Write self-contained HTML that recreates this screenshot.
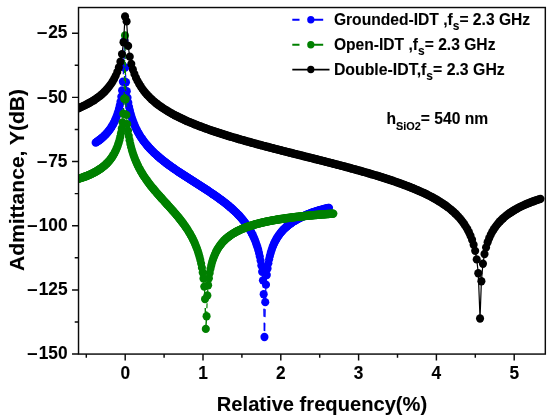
<!DOCTYPE html>
<html><head><meta charset="utf-8"><title>Admittance</title>
<style>
html,body{margin:0;padding:0;background:#fff;}
svg{display:block;}
text{font-family:"Liberation Sans",Arial,sans-serif;font-weight:bold;fill:#000;stroke:#000;stroke-width:0.1px;}
</style></head><body>
<svg width="550" height="419" viewBox="0 0 550 419">
<rect x="0" y="0" width="550" height="419" fill="#fff"/>
<defs><clipPath id="c"><rect x="78.52" y="7.53" width="466.80" height="346.54"/></clipPath></defs>

<g clip-path="url(#c)">
<path d="M95.64 142.63 L96.41 142.12 L97.19 141.59 L97.97 141.05 L98.75 140.49 L99.53 139.91 L100.30 139.31 L101.08 138.68 L101.86 138.03 L102.64 137.36 L103.42 136.65 L104.19 135.92 L104.97 135.15 L105.75 134.35 L106.53 133.51 L107.31 132.63 L108.08 131.71 L108.86 130.73 L109.64 129.70 L110.42 128.61 L111.20 127.44 L111.97 126.21 L112.75 124.88 L113.53 123.46 L114.31 121.92 L115.09 120.25 L115.86 118.43 L116.64 116.43 L117.42 114.20 L118.20 111.69 L118.98 108.84 L119.75 105.53 L120.53 101.60 L121.31 96.77 L122.09 90.53 L122.87 81.77 L123.64 67.24 L124.42 40.87 L125.20 67.49 L125.98 82.26 L126.76 91.28 L127.53 97.76 L128.31 102.84 L129.09 107.02 L129.87 110.57 L130.65 113.67 L131.42 116.43 L132.20 118.90 L132.98 121.16 L133.76 123.23 L134.54 125.15 L135.31 126.93 L136.09 128.60 L136.87 130.18 L137.65 131.66 L138.43 133.08 L139.20 134.42 L139.98 135.70 L140.76 136.93 L141.54 138.11 L142.32 139.24 L143.09 140.33 L143.87 141.38 L144.65 142.40 L145.43 143.39 L146.21 144.34 L146.98 145.27 L147.76 146.18 L148.54 147.06 L149.32 147.91 L150.10 148.75 L150.87 149.57 L151.65 150.37 L152.43 151.15 L153.21 151.92 L153.99 152.67 L154.76 153.40 L155.54 154.13 L156.32 154.84 L157.10 155.54 L157.88 156.22 L158.65 156.90 L159.43 157.56 L160.21 158.22 L160.99 158.86 L161.77 159.50 L162.54 160.13 L163.32 160.75 L164.10 161.37 L164.88 161.97 L165.66 162.57 L166.43 163.16 L167.21 163.75 L167.99 164.33 L168.77 164.91 L169.55 165.48 L170.32 166.04 L171.10 166.60 L171.88 167.15 L172.66 167.71 L173.44 168.25 L174.21 168.79 L174.99 169.33 L175.77 169.87 L176.55 170.40 L177.33 170.93 L178.10 171.45 L178.88 171.97 L179.66 172.49 L180.44 173.01 L181.22 173.53 L181.99 174.04 L182.77 174.55 L183.55 175.06 L184.33 175.56 L185.11 176.07 L185.88 176.57 L186.66 177.07 L187.44 177.57 L188.22 178.07 L189.00 178.57 L189.77 179.07 L190.55 179.57 L191.33 180.06 L192.11 180.56 L192.89 181.05 L193.66 181.55 L194.44 182.04 L195.22 182.54 L196.00 183.03 L196.78 183.53 L197.55 184.03 L198.33 184.52 L199.11 185.02 L199.89 185.52 L200.67 186.01 L201.44 186.51 L202.22 187.01 L203.00 187.52 L203.78 188.02 L204.56 188.52 L205.33 189.03 L206.11 189.54 L206.89 190.05 L207.67 190.56 L208.45 191.07 L209.22 191.59 L210.00 192.11 L210.78 192.63 L211.56 193.16 L212.34 193.68 L213.11 194.21 L213.89 194.75 L214.67 195.29 L215.45 195.83 L216.23 196.37 L217.00 196.92 L217.78 197.48 L218.56 198.04 L219.34 198.60 L220.12 199.17 L220.89 199.74 L221.67 200.32 L222.45 200.91 L223.23 201.50 L224.01 202.10 L224.78 202.70 L225.56 203.32 L226.34 203.93 L227.12 204.56 L227.90 205.20 L228.67 205.84 L229.45 206.50 L230.23 207.16 L231.01 207.84 L231.79 208.52 L232.56 209.22 L233.34 209.92 L234.12 210.64 L234.90 211.38 L235.68 212.13 L236.45 212.89 L237.23 213.67 L238.01 214.47 L238.79 215.28 L239.57 216.11 L240.34 216.97 L241.12 217.85 L241.90 218.74 L242.68 219.67 L243.46 220.62 L244.23 221.60 L245.01 222.62 L245.79 223.66 L246.57 224.75 L247.35 225.87 L248.12 227.04 L248.90 228.26 L249.68 229.53 L250.46 230.87 L251.24 232.27 L252.01 233.74 L252.79 235.30 L253.57 236.96 L254.35 238.72 L255.13 240.61 L255.90 242.66 L256.68 244.88 L257.46 247.32 L258.24 250.02 L259.02 253.06 L259.79 256.54 L260.57 260.61 L261.35 265.53 L262.13 271.77 L262.91 280.35 L263.68 294.24 M265.24 302.14 L266.02 284.64 L266.80 275.04 L267.57 268.42 L268.35 263.37 L269.13 259.29 L269.91 255.88 L270.69 252.96 L271.46 250.39 L272.24 248.12 L273.02 246.08 L273.80 244.22 L274.58 242.53 L275.35 240.97 L276.13 239.53 L276.91 238.19 L277.69 236.94 L278.47 235.76 L279.24 234.66 L280.02 233.62 L280.80 232.63 L281.58 231.70 L282.36 230.81 L283.13 229.96 L283.91 229.15 L284.69 228.38 L285.47 227.64 L286.25 226.93 L287.02 226.25 L287.80 225.60 L288.58 224.97 L289.36 224.36 L290.14 223.78 L290.91 223.22 L291.69 222.67 L292.47 222.14 L293.25 221.63 L294.03 221.14 L294.80 220.66 L295.58 220.19 L296.36 219.74 L297.14 219.30 L297.92 218.87 L298.69 218.46 L299.47 218.06 L300.25 217.66 L301.03 217.28 L301.81 216.91 L302.58 216.54 L303.36 216.19 L304.14 215.84 L304.92 215.50 L305.70 215.17 L306.47 214.85 L307.25 214.54 L308.03 214.23 L308.81 213.93 L309.59 213.63 L310.36 213.34 L311.14 213.06 L311.92 212.78 L312.70 212.51 L313.48 212.25 L314.25 211.98 L315.03 211.73 L315.81 211.48 L316.59 211.23 L317.37 210.99 L318.14 210.76 L318.92 210.52 L319.70 210.30 L320.48 210.07 L321.26 209.85 L322.03 209.64 L322.81 209.42 L323.59 209.21 L324.37 209.01 L325.15 208.81 L325.92 208.61 L326.70 208.41 L327.48 208.22 L328.26 208.03 L329.04 207.85" fill="none" stroke="#0000ff" stroke-width="1.2" stroke-dasharray="7 4"/>
<path d="M263.68 294.24 L264.46 337.04" fill="none" stroke="#0000ff" stroke-width="1.4" stroke-dasharray="8 6" stroke-dashoffset="-14.4"/>
<path d="M265.24 302.14 L264.46 337.04" fill="none" stroke="#0000ff" stroke-width="1.4" stroke-dasharray="8 6" stroke-dashoffset="-7.0"/>
<g fill="#0000ff">
<ellipse cx="95.64" cy="142.63" rx="4.05" ry="4.2"/>
<ellipse cx="96.41" cy="142.12" rx="4.05" ry="4.2"/>
<ellipse cx="97.19" cy="141.59" rx="4.05" ry="4.2"/>
<ellipse cx="97.97" cy="141.05" rx="4.05" ry="4.2"/>
<ellipse cx="98.75" cy="140.49" rx="4.05" ry="4.2"/>
<ellipse cx="99.53" cy="139.91" rx="4.05" ry="4.2"/>
<ellipse cx="100.30" cy="139.31" rx="4.05" ry="4.2"/>
<ellipse cx="101.08" cy="138.68" rx="4.05" ry="4.2"/>
<ellipse cx="101.86" cy="138.03" rx="4.05" ry="4.2"/>
<ellipse cx="102.64" cy="137.36" rx="4.05" ry="4.2"/>
<ellipse cx="103.42" cy="136.65" rx="4.05" ry="4.2"/>
<ellipse cx="104.19" cy="135.92" rx="4.05" ry="4.2"/>
<ellipse cx="104.97" cy="135.15" rx="4.05" ry="4.2"/>
<ellipse cx="105.75" cy="134.35" rx="4.05" ry="4.2"/>
<ellipse cx="106.53" cy="133.51" rx="4.05" ry="4.2"/>
<ellipse cx="107.31" cy="132.63" rx="4.05" ry="4.2"/>
<ellipse cx="108.08" cy="131.71" rx="4.05" ry="4.2"/>
<ellipse cx="108.86" cy="130.73" rx="4.05" ry="4.2"/>
<ellipse cx="109.64" cy="129.70" rx="4.05" ry="4.2"/>
<ellipse cx="110.42" cy="128.61" rx="4.05" ry="4.2"/>
<ellipse cx="111.20" cy="127.44" rx="4.05" ry="4.2"/>
<ellipse cx="111.97" cy="126.21" rx="4.05" ry="4.2"/>
<ellipse cx="112.75" cy="124.88" rx="4.05" ry="4.2"/>
<ellipse cx="113.53" cy="123.46" rx="4.05" ry="4.2"/>
<ellipse cx="114.31" cy="121.92" rx="4.05" ry="4.2"/>
<ellipse cx="115.09" cy="120.25" rx="4.05" ry="4.2"/>
<ellipse cx="115.86" cy="118.43" rx="4.05" ry="4.2"/>
<ellipse cx="116.64" cy="116.43" rx="4.05" ry="4.2"/>
<ellipse cx="117.42" cy="114.20" rx="4.05" ry="4.2"/>
<ellipse cx="118.20" cy="111.69" rx="4.05" ry="4.2"/>
<ellipse cx="118.98" cy="108.84" rx="4.05" ry="4.2"/>
<ellipse cx="119.75" cy="105.53" rx="4.05" ry="4.2"/>
<ellipse cx="120.53" cy="101.60" rx="4.05" ry="4.2"/>
<ellipse cx="121.31" cy="96.77" rx="4.05" ry="4.2"/>
<ellipse cx="122.09" cy="90.53" rx="4.05" ry="4.2"/>
<ellipse cx="122.87" cy="81.77" rx="4.05" ry="4.2"/>
<ellipse cx="123.64" cy="67.24" rx="4.05" ry="4.2"/>
<ellipse cx="124.42" cy="40.87" rx="4.05" ry="4.2"/>
<ellipse cx="125.20" cy="67.49" rx="4.05" ry="4.2"/>
<ellipse cx="125.98" cy="82.26" rx="4.05" ry="4.2"/>
<ellipse cx="126.76" cy="91.28" rx="4.05" ry="4.2"/>
<ellipse cx="127.53" cy="97.76" rx="4.05" ry="4.2"/>
<ellipse cx="128.31" cy="102.84" rx="4.05" ry="4.2"/>
<ellipse cx="129.09" cy="107.02" rx="4.05" ry="4.2"/>
<ellipse cx="129.87" cy="110.57" rx="4.05" ry="4.2"/>
<ellipse cx="130.65" cy="113.67" rx="4.05" ry="4.2"/>
<ellipse cx="131.42" cy="116.43" rx="4.05" ry="4.2"/>
<ellipse cx="132.20" cy="118.90" rx="4.05" ry="4.2"/>
<ellipse cx="132.98" cy="121.16" rx="4.05" ry="4.2"/>
<ellipse cx="133.76" cy="123.23" rx="4.05" ry="4.2"/>
<ellipse cx="134.54" cy="125.15" rx="4.05" ry="4.2"/>
<ellipse cx="135.31" cy="126.93" rx="4.05" ry="4.2"/>
<ellipse cx="136.09" cy="128.60" rx="4.05" ry="4.2"/>
<ellipse cx="136.87" cy="130.18" rx="4.05" ry="4.2"/>
<ellipse cx="137.65" cy="131.66" rx="4.05" ry="4.2"/>
<ellipse cx="138.43" cy="133.08" rx="4.05" ry="4.2"/>
<ellipse cx="139.20" cy="134.42" rx="4.05" ry="4.2"/>
<ellipse cx="139.98" cy="135.70" rx="4.05" ry="4.2"/>
<ellipse cx="140.76" cy="136.93" rx="4.05" ry="4.2"/>
<ellipse cx="141.54" cy="138.11" rx="4.05" ry="4.2"/>
<ellipse cx="142.32" cy="139.24" rx="4.05" ry="4.2"/>
<ellipse cx="143.09" cy="140.33" rx="4.05" ry="4.2"/>
<ellipse cx="143.87" cy="141.38" rx="4.05" ry="4.2"/>
<ellipse cx="144.65" cy="142.40" rx="4.05" ry="4.2"/>
<ellipse cx="145.43" cy="143.39" rx="4.05" ry="4.2"/>
<ellipse cx="146.21" cy="144.34" rx="4.05" ry="4.2"/>
<ellipse cx="146.98" cy="145.27" rx="4.05" ry="4.2"/>
<ellipse cx="147.76" cy="146.18" rx="4.05" ry="4.2"/>
<ellipse cx="148.54" cy="147.06" rx="4.05" ry="4.2"/>
<ellipse cx="149.32" cy="147.91" rx="4.05" ry="4.2"/>
<ellipse cx="150.10" cy="148.75" rx="4.05" ry="4.2"/>
<ellipse cx="150.87" cy="149.57" rx="4.05" ry="4.2"/>
<ellipse cx="151.65" cy="150.37" rx="4.05" ry="4.2"/>
<ellipse cx="152.43" cy="151.15" rx="4.05" ry="4.2"/>
<ellipse cx="153.21" cy="151.92" rx="4.05" ry="4.2"/>
<ellipse cx="153.99" cy="152.67" rx="4.05" ry="4.2"/>
<ellipse cx="154.76" cy="153.40" rx="4.05" ry="4.2"/>
<ellipse cx="155.54" cy="154.13" rx="4.05" ry="4.2"/>
<ellipse cx="156.32" cy="154.84" rx="4.05" ry="4.2"/>
<ellipse cx="157.10" cy="155.54" rx="4.05" ry="4.2"/>
<ellipse cx="157.88" cy="156.22" rx="4.05" ry="4.2"/>
<ellipse cx="158.65" cy="156.90" rx="4.05" ry="4.2"/>
<ellipse cx="159.43" cy="157.56" rx="4.05" ry="4.2"/>
<ellipse cx="160.21" cy="158.22" rx="4.05" ry="4.2"/>
<ellipse cx="160.99" cy="158.86" rx="4.05" ry="4.2"/>
<ellipse cx="161.77" cy="159.50" rx="4.05" ry="4.2"/>
<ellipse cx="162.54" cy="160.13" rx="4.05" ry="4.2"/>
<ellipse cx="163.32" cy="160.75" rx="4.05" ry="4.2"/>
<ellipse cx="164.10" cy="161.37" rx="4.05" ry="4.2"/>
<ellipse cx="164.88" cy="161.97" rx="4.05" ry="4.2"/>
<ellipse cx="165.66" cy="162.57" rx="4.05" ry="4.2"/>
<ellipse cx="166.43" cy="163.16" rx="4.05" ry="4.2"/>
<ellipse cx="167.21" cy="163.75" rx="4.05" ry="4.2"/>
<ellipse cx="167.99" cy="164.33" rx="4.05" ry="4.2"/>
<ellipse cx="168.77" cy="164.91" rx="4.05" ry="4.2"/>
<ellipse cx="169.55" cy="165.48" rx="4.05" ry="4.2"/>
<ellipse cx="170.32" cy="166.04" rx="4.05" ry="4.2"/>
<ellipse cx="171.10" cy="166.60" rx="4.05" ry="4.2"/>
<ellipse cx="171.88" cy="167.15" rx="4.05" ry="4.2"/>
<ellipse cx="172.66" cy="167.71" rx="4.05" ry="4.2"/>
<ellipse cx="173.44" cy="168.25" rx="4.05" ry="4.2"/>
<ellipse cx="174.21" cy="168.79" rx="4.05" ry="4.2"/>
<ellipse cx="174.99" cy="169.33" rx="4.05" ry="4.2"/>
<ellipse cx="175.77" cy="169.87" rx="4.05" ry="4.2"/>
<ellipse cx="176.55" cy="170.40" rx="4.05" ry="4.2"/>
<ellipse cx="177.33" cy="170.93" rx="4.05" ry="4.2"/>
<ellipse cx="178.10" cy="171.45" rx="4.05" ry="4.2"/>
<ellipse cx="178.88" cy="171.97" rx="4.05" ry="4.2"/>
<ellipse cx="179.66" cy="172.49" rx="4.05" ry="4.2"/>
<ellipse cx="180.44" cy="173.01" rx="4.05" ry="4.2"/>
<ellipse cx="181.22" cy="173.53" rx="4.05" ry="4.2"/>
<ellipse cx="181.99" cy="174.04" rx="4.05" ry="4.2"/>
<ellipse cx="182.77" cy="174.55" rx="4.05" ry="4.2"/>
<ellipse cx="183.55" cy="175.06" rx="4.05" ry="4.2"/>
<ellipse cx="184.33" cy="175.56" rx="4.05" ry="4.2"/>
<ellipse cx="185.11" cy="176.07" rx="4.05" ry="4.2"/>
<ellipse cx="185.88" cy="176.57" rx="4.05" ry="4.2"/>
<ellipse cx="186.66" cy="177.07" rx="4.05" ry="4.2"/>
<ellipse cx="187.44" cy="177.57" rx="4.05" ry="4.2"/>
<ellipse cx="188.22" cy="178.07" rx="4.05" ry="4.2"/>
<ellipse cx="189.00" cy="178.57" rx="4.05" ry="4.2"/>
<ellipse cx="189.77" cy="179.07" rx="4.05" ry="4.2"/>
<ellipse cx="190.55" cy="179.57" rx="4.05" ry="4.2"/>
<ellipse cx="191.33" cy="180.06" rx="4.05" ry="4.2"/>
<ellipse cx="192.11" cy="180.56" rx="4.05" ry="4.2"/>
<ellipse cx="192.89" cy="181.05" rx="4.05" ry="4.2"/>
<ellipse cx="193.66" cy="181.55" rx="4.05" ry="4.2"/>
<ellipse cx="194.44" cy="182.04" rx="4.05" ry="4.2"/>
<ellipse cx="195.22" cy="182.54" rx="4.05" ry="4.2"/>
<ellipse cx="196.00" cy="183.03" rx="4.05" ry="4.2"/>
<ellipse cx="196.78" cy="183.53" rx="4.05" ry="4.2"/>
<ellipse cx="197.55" cy="184.03" rx="4.05" ry="4.2"/>
<ellipse cx="198.33" cy="184.52" rx="4.05" ry="4.2"/>
<ellipse cx="199.11" cy="185.02" rx="4.05" ry="4.2"/>
<ellipse cx="199.89" cy="185.52" rx="4.05" ry="4.2"/>
<ellipse cx="200.67" cy="186.01" rx="4.05" ry="4.2"/>
<ellipse cx="201.44" cy="186.51" rx="4.05" ry="4.2"/>
<ellipse cx="202.22" cy="187.01" rx="4.05" ry="4.2"/>
<ellipse cx="203.00" cy="187.52" rx="4.05" ry="4.2"/>
<ellipse cx="203.78" cy="188.02" rx="4.05" ry="4.2"/>
<ellipse cx="204.56" cy="188.52" rx="4.05" ry="4.2"/>
<ellipse cx="205.33" cy="189.03" rx="4.05" ry="4.2"/>
<ellipse cx="206.11" cy="189.54" rx="4.05" ry="4.2"/>
<ellipse cx="206.89" cy="190.05" rx="4.05" ry="4.2"/>
<ellipse cx="207.67" cy="190.56" rx="4.05" ry="4.2"/>
<ellipse cx="208.45" cy="191.07" rx="4.05" ry="4.2"/>
<ellipse cx="209.22" cy="191.59" rx="4.05" ry="4.2"/>
<ellipse cx="210.00" cy="192.11" rx="4.05" ry="4.2"/>
<ellipse cx="210.78" cy="192.63" rx="4.05" ry="4.2"/>
<ellipse cx="211.56" cy="193.16" rx="4.05" ry="4.2"/>
<ellipse cx="212.34" cy="193.68" rx="4.05" ry="4.2"/>
<ellipse cx="213.11" cy="194.21" rx="4.05" ry="4.2"/>
<ellipse cx="213.89" cy="194.75" rx="4.05" ry="4.2"/>
<ellipse cx="214.67" cy="195.29" rx="4.05" ry="4.2"/>
<ellipse cx="215.45" cy="195.83" rx="4.05" ry="4.2"/>
<ellipse cx="216.23" cy="196.37" rx="4.05" ry="4.2"/>
<ellipse cx="217.00" cy="196.92" rx="4.05" ry="4.2"/>
<ellipse cx="217.78" cy="197.48" rx="4.05" ry="4.2"/>
<ellipse cx="218.56" cy="198.04" rx="4.05" ry="4.2"/>
<ellipse cx="219.34" cy="198.60" rx="4.05" ry="4.2"/>
<ellipse cx="220.12" cy="199.17" rx="4.05" ry="4.2"/>
<ellipse cx="220.89" cy="199.74" rx="4.05" ry="4.2"/>
<ellipse cx="221.67" cy="200.32" rx="4.05" ry="4.2"/>
<ellipse cx="222.45" cy="200.91" rx="4.05" ry="4.2"/>
<ellipse cx="223.23" cy="201.50" rx="4.05" ry="4.2"/>
<ellipse cx="224.01" cy="202.10" rx="4.05" ry="4.2"/>
<ellipse cx="224.78" cy="202.70" rx="4.05" ry="4.2"/>
<ellipse cx="225.56" cy="203.32" rx="4.05" ry="4.2"/>
<ellipse cx="226.34" cy="203.93" rx="4.05" ry="4.2"/>
<ellipse cx="227.12" cy="204.56" rx="4.05" ry="4.2"/>
<ellipse cx="227.90" cy="205.20" rx="4.05" ry="4.2"/>
<ellipse cx="228.67" cy="205.84" rx="4.05" ry="4.2"/>
<ellipse cx="229.45" cy="206.50" rx="4.05" ry="4.2"/>
<ellipse cx="230.23" cy="207.16" rx="4.05" ry="4.2"/>
<ellipse cx="231.01" cy="207.84" rx="4.05" ry="4.2"/>
<ellipse cx="231.79" cy="208.52" rx="4.05" ry="4.2"/>
<ellipse cx="232.56" cy="209.22" rx="4.05" ry="4.2"/>
<ellipse cx="233.34" cy="209.92" rx="4.05" ry="4.2"/>
<ellipse cx="234.12" cy="210.64" rx="4.05" ry="4.2"/>
<ellipse cx="234.90" cy="211.38" rx="4.05" ry="4.2"/>
<ellipse cx="235.68" cy="212.13" rx="4.05" ry="4.2"/>
<ellipse cx="236.45" cy="212.89" rx="4.05" ry="4.2"/>
<ellipse cx="237.23" cy="213.67" rx="4.05" ry="4.2"/>
<ellipse cx="238.01" cy="214.47" rx="4.05" ry="4.2"/>
<ellipse cx="238.79" cy="215.28" rx="4.05" ry="4.2"/>
<ellipse cx="239.57" cy="216.11" rx="4.05" ry="4.2"/>
<ellipse cx="240.34" cy="216.97" rx="4.05" ry="4.2"/>
<ellipse cx="241.12" cy="217.85" rx="4.05" ry="4.2"/>
<ellipse cx="241.90" cy="218.74" rx="4.05" ry="4.2"/>
<ellipse cx="242.68" cy="219.67" rx="4.05" ry="4.2"/>
<ellipse cx="243.46" cy="220.62" rx="4.05" ry="4.2"/>
<ellipse cx="244.23" cy="221.60" rx="4.05" ry="4.2"/>
<ellipse cx="245.01" cy="222.62" rx="4.05" ry="4.2"/>
<ellipse cx="245.79" cy="223.66" rx="4.05" ry="4.2"/>
<ellipse cx="246.57" cy="224.75" rx="4.05" ry="4.2"/>
<ellipse cx="247.35" cy="225.87" rx="4.05" ry="4.2"/>
<ellipse cx="248.12" cy="227.04" rx="4.05" ry="4.2"/>
<ellipse cx="248.90" cy="228.26" rx="4.05" ry="4.2"/>
<ellipse cx="249.68" cy="229.53" rx="4.05" ry="4.2"/>
<ellipse cx="250.46" cy="230.87" rx="4.05" ry="4.2"/>
<ellipse cx="251.24" cy="232.27" rx="4.05" ry="4.2"/>
<ellipse cx="252.01" cy="233.74" rx="4.05" ry="4.2"/>
<ellipse cx="252.79" cy="235.30" rx="4.05" ry="4.2"/>
<ellipse cx="253.57" cy="236.96" rx="4.05" ry="4.2"/>
<ellipse cx="254.35" cy="238.72" rx="4.05" ry="4.2"/>
<ellipse cx="255.13" cy="240.61" rx="4.05" ry="4.2"/>
<ellipse cx="255.90" cy="242.66" rx="4.05" ry="4.2"/>
<ellipse cx="256.68" cy="244.88" rx="4.05" ry="4.2"/>
<ellipse cx="257.46" cy="247.32" rx="4.05" ry="4.2"/>
<ellipse cx="258.24" cy="250.02" rx="4.05" ry="4.2"/>
<ellipse cx="259.02" cy="253.06" rx="4.05" ry="4.2"/>
<ellipse cx="259.79" cy="256.54" rx="4.05" ry="4.2"/>
<ellipse cx="260.57" cy="260.61" rx="4.05" ry="4.2"/>
<ellipse cx="261.35" cy="265.53" rx="4.05" ry="4.2"/>
<ellipse cx="262.13" cy="271.77" rx="4.05" ry="4.2"/>
<ellipse cx="262.91" cy="280.35" rx="4.05" ry="4.2"/>
<ellipse cx="263.68" cy="294.24" rx="4.05" ry="4.2"/>
<ellipse cx="264.46" cy="337.04" rx="4.05" ry="4.2"/>
<ellipse cx="265.24" cy="302.14" rx="4.05" ry="4.2"/>
<ellipse cx="266.02" cy="284.64" rx="4.05" ry="4.2"/>
<ellipse cx="266.80" cy="275.04" rx="4.05" ry="4.2"/>
<ellipse cx="267.57" cy="268.42" rx="4.05" ry="4.2"/>
<ellipse cx="268.35" cy="263.37" rx="4.05" ry="4.2"/>
<ellipse cx="269.13" cy="259.29" rx="4.05" ry="4.2"/>
<ellipse cx="269.91" cy="255.88" rx="4.05" ry="4.2"/>
<ellipse cx="270.69" cy="252.96" rx="4.05" ry="4.2"/>
<ellipse cx="271.46" cy="250.39" rx="4.05" ry="4.2"/>
<ellipse cx="272.24" cy="248.12" rx="4.05" ry="4.2"/>
<ellipse cx="273.02" cy="246.08" rx="4.05" ry="4.2"/>
<ellipse cx="273.80" cy="244.22" rx="4.05" ry="4.2"/>
<ellipse cx="274.58" cy="242.53" rx="4.05" ry="4.2"/>
<ellipse cx="275.35" cy="240.97" rx="4.05" ry="4.2"/>
<ellipse cx="276.13" cy="239.53" rx="4.05" ry="4.2"/>
<ellipse cx="276.91" cy="238.19" rx="4.05" ry="4.2"/>
<ellipse cx="277.69" cy="236.94" rx="4.05" ry="4.2"/>
<ellipse cx="278.47" cy="235.76" rx="4.05" ry="4.2"/>
<ellipse cx="279.24" cy="234.66" rx="4.05" ry="4.2"/>
<ellipse cx="280.02" cy="233.62" rx="4.05" ry="4.2"/>
<ellipse cx="280.80" cy="232.63" rx="4.05" ry="4.2"/>
<ellipse cx="281.58" cy="231.70" rx="4.05" ry="4.2"/>
<ellipse cx="282.36" cy="230.81" rx="4.05" ry="4.2"/>
<ellipse cx="283.13" cy="229.96" rx="4.05" ry="4.2"/>
<ellipse cx="283.91" cy="229.15" rx="4.05" ry="4.2"/>
<ellipse cx="284.69" cy="228.38" rx="4.05" ry="4.2"/>
<ellipse cx="285.47" cy="227.64" rx="4.05" ry="4.2"/>
<ellipse cx="286.25" cy="226.93" rx="4.05" ry="4.2"/>
<ellipse cx="287.02" cy="226.25" rx="4.05" ry="4.2"/>
<ellipse cx="287.80" cy="225.60" rx="4.05" ry="4.2"/>
<ellipse cx="288.58" cy="224.97" rx="4.05" ry="4.2"/>
<ellipse cx="289.36" cy="224.36" rx="4.05" ry="4.2"/>
<ellipse cx="290.14" cy="223.78" rx="4.05" ry="4.2"/>
<ellipse cx="290.91" cy="223.22" rx="4.05" ry="4.2"/>
<ellipse cx="291.69" cy="222.67" rx="4.05" ry="4.2"/>
<ellipse cx="292.47" cy="222.14" rx="4.05" ry="4.2"/>
<ellipse cx="293.25" cy="221.63" rx="4.05" ry="4.2"/>
<ellipse cx="294.03" cy="221.14" rx="4.05" ry="4.2"/>
<ellipse cx="294.80" cy="220.66" rx="4.05" ry="4.2"/>
<ellipse cx="295.58" cy="220.19" rx="4.05" ry="4.2"/>
<ellipse cx="296.36" cy="219.74" rx="4.05" ry="4.2"/>
<ellipse cx="297.14" cy="219.30" rx="4.05" ry="4.2"/>
<ellipse cx="297.92" cy="218.87" rx="4.05" ry="4.2"/>
<ellipse cx="298.69" cy="218.46" rx="4.05" ry="4.2"/>
<ellipse cx="299.47" cy="218.06" rx="4.05" ry="4.2"/>
<ellipse cx="300.25" cy="217.66" rx="4.05" ry="4.2"/>
<ellipse cx="301.03" cy="217.28" rx="4.05" ry="4.2"/>
<ellipse cx="301.81" cy="216.91" rx="4.05" ry="4.2"/>
<ellipse cx="302.58" cy="216.54" rx="4.05" ry="4.2"/>
<ellipse cx="303.36" cy="216.19" rx="4.05" ry="4.2"/>
<ellipse cx="304.14" cy="215.84" rx="4.05" ry="4.2"/>
<ellipse cx="304.92" cy="215.50" rx="4.05" ry="4.2"/>
<ellipse cx="305.70" cy="215.17" rx="4.05" ry="4.2"/>
<ellipse cx="306.47" cy="214.85" rx="4.05" ry="4.2"/>
<ellipse cx="307.25" cy="214.54" rx="4.05" ry="4.2"/>
<ellipse cx="308.03" cy="214.23" rx="4.05" ry="4.2"/>
<ellipse cx="308.81" cy="213.93" rx="4.05" ry="4.2"/>
<ellipse cx="309.59" cy="213.63" rx="4.05" ry="4.2"/>
<ellipse cx="310.36" cy="213.34" rx="4.05" ry="4.2"/>
<ellipse cx="311.14" cy="213.06" rx="4.05" ry="4.2"/>
<ellipse cx="311.92" cy="212.78" rx="4.05" ry="4.2"/>
<ellipse cx="312.70" cy="212.51" rx="4.05" ry="4.2"/>
<ellipse cx="313.48" cy="212.25" rx="4.05" ry="4.2"/>
<ellipse cx="314.25" cy="211.98" rx="4.05" ry="4.2"/>
<ellipse cx="315.03" cy="211.73" rx="4.05" ry="4.2"/>
<ellipse cx="315.81" cy="211.48" rx="4.05" ry="4.2"/>
<ellipse cx="316.59" cy="211.23" rx="4.05" ry="4.2"/>
<ellipse cx="317.37" cy="210.99" rx="4.05" ry="4.2"/>
<ellipse cx="318.14" cy="210.76" rx="4.05" ry="4.2"/>
<ellipse cx="318.92" cy="210.52" rx="4.05" ry="4.2"/>
<ellipse cx="319.70" cy="210.30" rx="4.05" ry="4.2"/>
<ellipse cx="320.48" cy="210.07" rx="4.05" ry="4.2"/>
<ellipse cx="321.26" cy="209.85" rx="4.05" ry="4.2"/>
<ellipse cx="322.03" cy="209.64" rx="4.05" ry="4.2"/>
<ellipse cx="322.81" cy="209.42" rx="4.05" ry="4.2"/>
<ellipse cx="323.59" cy="209.21" rx="4.05" ry="4.2"/>
<ellipse cx="324.37" cy="209.01" rx="4.05" ry="4.2"/>
<ellipse cx="325.15" cy="208.81" rx="4.05" ry="4.2"/>
<ellipse cx="325.92" cy="208.61" rx="4.05" ry="4.2"/>
<ellipse cx="326.70" cy="208.41" rx="4.05" ry="4.2"/>
<ellipse cx="327.48" cy="208.22" rx="4.05" ry="4.2"/>
<ellipse cx="328.26" cy="208.03" rx="4.05" ry="4.2"/>
<ellipse cx="329.04" cy="207.85" rx="4.05" ry="4.2"/>
</g>
<path d="M77.43 179.10 L78.21 178.87 L78.99 178.63 L79.76 178.39 L80.54 178.14 L81.32 177.88 L82.10 177.62 L82.88 177.35 L83.65 177.08 L84.43 176.79 L85.21 176.50 L85.99 176.21 L86.77 175.90 L87.54 175.59 L88.32 175.27 L89.10 174.93 L89.88 174.59 L90.66 174.24 L91.43 173.88 L92.21 173.51 L92.99 173.13 L93.77 172.73 L94.55 172.32 L95.32 171.90 L96.10 171.46 L96.88 171.01 L97.66 170.55 L98.44 170.06 L99.21 169.56 L99.99 169.04 L100.77 168.50 L101.55 167.94 L102.33 167.35 L103.10 166.74 L103.88 166.11 L104.66 165.44 L105.44 164.75 L106.22 164.02 L106.99 163.25 L107.77 162.44 L108.55 161.59 L109.33 160.70 L110.11 159.75 L110.88 158.74 L111.66 157.67 L112.44 156.52 L113.22 155.29 L114.00 153.97 L114.77 152.53 L115.55 150.97 L116.33 149.26 L117.11 147.37 L117.89 145.27 L118.66 142.90 L119.44 140.18 L120.22 137.02 L121.00 133.24 L121.78 128.56 L122.55 122.46 L123.33 113.75 L124.11 98.66 L125.00 35.50 L125.67 99.24 L126.44 114.89 L127.22 124.14 L128.00 130.77 L128.78 135.97 L129.56 140.26 L130.33 143.93 L131.11 147.13 L131.89 149.99 L132.67 152.58 L133.45 154.94 L134.22 157.12 L135.00 159.15 L135.78 161.04 L136.56 162.83 L137.34 164.52 L138.11 166.13 L138.89 167.66 L139.67 169.12 L140.45 170.53 L141.23 171.88 L142.00 173.19 L142.78 174.45 L143.56 175.68 L144.34 176.87 L145.12 178.02 L145.89 179.15 L146.67 180.25 L147.45 181.33 L148.23 182.38 L149.01 183.42 L149.78 184.43 L150.56 185.43 L151.34 186.41 L152.12 187.37 L152.90 188.32 L153.67 189.26 L154.45 190.19 L155.23 191.11 L156.01 192.02 L156.79 192.92 L157.56 193.81 L158.34 194.69 L159.12 195.57 L159.90 196.45 L160.68 197.32 L161.45 198.18 L162.23 199.04 L163.01 199.90 L163.79 200.76 L164.57 201.61 L165.34 202.47 L166.12 203.32 L166.90 204.18 L167.68 205.03 L168.46 205.89 L169.23 206.75 L170.01 207.62 L170.79 208.48 L171.57 209.36 L172.35 210.23 L173.12 211.12 L173.90 212.00 L174.68 212.90 L175.46 213.81 L176.24 214.72 L177.01 215.65 L177.79 216.58 L178.57 217.53 L179.35 218.49 L180.13 219.46 L180.90 220.45 L181.68 221.46 L182.46 222.49 L183.24 223.53 L184.02 224.60 L184.79 225.69 L185.57 226.81 L186.35 227.96 L187.13 229.13 L187.91 230.35 L188.68 231.60 L189.46 232.89 L190.24 234.22 L191.02 235.61 L191.80 237.05 L192.57 238.56 L193.35 240.14 L194.13 241.79 L194.91 243.54 L195.69 245.40 L196.46 247.38 L197.24 249.50 L198.02 251.79 L198.80 254.29 L199.58 257.05 L200.35 260.12 L201.13 263.60 L201.91 267.64 L202.69 272.47 L203.47 278.50 L204.24 286.60 L205.02 299.10 M206.58 316.32 L207.36 295.57 L208.13 285.16 L208.91 278.21 L209.69 273.00 L210.47 268.86 L211.25 265.42 L212.02 262.49 L212.80 259.95 L213.58 257.70 L214.36 255.69 L215.14 253.89 L215.91 252.24 L216.69 250.73 L217.47 249.34 L218.25 248.06 L219.03 246.86 L219.80 245.74 L220.58 244.69 L221.36 243.71 L222.14 242.78 L222.92 241.90 L223.69 241.07 L224.47 240.28 L225.25 239.53 L226.03 238.82 L226.81 238.14 L227.58 237.48 L228.36 236.86 L229.14 236.26 L229.92 235.69 L230.70 235.14 L231.47 234.61 L232.25 234.09 L233.03 233.60 L233.81 233.13 L234.59 232.67 L235.36 232.23 L236.14 231.80 L236.92 231.38 L237.70 230.98 L238.48 230.59 L239.25 230.22 L240.03 229.85 L240.81 229.50 L241.59 229.15 L242.37 228.82 L243.14 228.49 L243.92 228.17 L244.70 227.87 L245.48 227.56 L246.26 227.27 L247.03 226.99 L247.81 226.71 L248.59 226.44 L249.37 226.17 L250.15 225.92 L250.92 225.66 L251.70 225.42 L252.48 225.18 L253.26 224.94 L254.04 224.71 L254.81 224.49 L255.59 224.27 L256.37 224.05 L257.15 223.84 L257.93 223.63 L258.70 223.43 L259.48 223.23 L260.26 223.04 L261.04 222.85 L261.82 222.66 L262.59 222.48 L263.37 222.30 L264.15 222.13 L264.93 221.95 L265.71 221.78 L266.48 221.62 L267.26 221.45 L268.04 221.29 L268.82 221.14 L269.60 220.98 L270.37 220.83 L271.15 220.68 L271.93 220.53 L272.71 220.39 L273.49 220.25 L274.26 220.11 L275.04 219.97 L275.82 219.84 L276.60 219.70 L277.38 219.57 L278.15 219.44 L278.93 219.32 L279.71 219.19 L280.49 219.07 L281.27 218.95 L282.04 218.83 L282.82 218.71 L283.60 218.60 L284.38 218.49 L285.16 218.37 L285.93 218.26 L286.71 218.15 L287.49 218.05 L288.27 217.94 L289.05 217.84 L289.82 217.73 L290.60 217.63 L291.38 217.53 L292.16 217.43 L292.94 217.34 L293.71 217.24 L294.49 217.15 L295.27 217.05 L296.05 216.96 L296.83 216.87 L297.60 216.78 L298.38 216.69 L299.16 216.61 L299.94 216.52 L300.72 216.43 L301.49 216.35 L302.27 216.27 L303.05 216.18 L303.83 216.10 L304.61 216.02 L305.38 215.94 L306.16 215.87 L306.94 215.79 L307.72 215.71 L308.50 215.64 L309.27 215.56 L310.05 215.49 L310.83 215.42 L311.61 215.35 L312.39 215.27 L313.16 215.20 L313.94 215.13 L314.72 215.07 L315.50 215.00 L316.28 214.93 L317.05 214.86 L317.83 214.80 L318.61 214.73 L319.39 214.67 L320.17 214.61 L320.94 214.54 L321.72 214.48 L322.50 214.42 L323.28 214.36 L324.06 214.30 L324.83 214.24 L325.61 214.18 L326.39 214.12 L327.17 214.06 L327.95 214.01 L328.72 213.95 L329.50 213.89 L330.28 213.84 L331.06 213.78 L331.84 213.73 L332.61 213.67 L333.39 213.62" fill="none" stroke="#008000" stroke-width="1.2" stroke-dasharray="5 3"/>
<path d="M205.02 299.10 L205.80 328.88" fill="none" stroke="#008000" stroke-width="1.4" stroke-dasharray="6.5 40" stroke-dashoffset="-9.0"/>
<path d="M206.58 316.32 L205.80 328.88" fill="none" stroke="#008000" stroke-width="1.4" stroke-dasharray="6.5 40" stroke-dashoffset="-3.0"/>
<g fill="#008000">
<ellipse cx="77.43" cy="179.10" rx="4.05" ry="4.2"/>
<ellipse cx="78.21" cy="178.87" rx="4.05" ry="4.2"/>
<ellipse cx="78.99" cy="178.63" rx="4.05" ry="4.2"/>
<ellipse cx="79.76" cy="178.39" rx="4.05" ry="4.2"/>
<ellipse cx="80.54" cy="178.14" rx="4.05" ry="4.2"/>
<ellipse cx="81.32" cy="177.88" rx="4.05" ry="4.2"/>
<ellipse cx="82.10" cy="177.62" rx="4.05" ry="4.2"/>
<ellipse cx="82.88" cy="177.35" rx="4.05" ry="4.2"/>
<ellipse cx="83.65" cy="177.08" rx="4.05" ry="4.2"/>
<ellipse cx="84.43" cy="176.79" rx="4.05" ry="4.2"/>
<ellipse cx="85.21" cy="176.50" rx="4.05" ry="4.2"/>
<ellipse cx="85.99" cy="176.21" rx="4.05" ry="4.2"/>
<ellipse cx="86.77" cy="175.90" rx="4.05" ry="4.2"/>
<ellipse cx="87.54" cy="175.59" rx="4.05" ry="4.2"/>
<ellipse cx="88.32" cy="175.27" rx="4.05" ry="4.2"/>
<ellipse cx="89.10" cy="174.93" rx="4.05" ry="4.2"/>
<ellipse cx="89.88" cy="174.59" rx="4.05" ry="4.2"/>
<ellipse cx="90.66" cy="174.24" rx="4.05" ry="4.2"/>
<ellipse cx="91.43" cy="173.88" rx="4.05" ry="4.2"/>
<ellipse cx="92.21" cy="173.51" rx="4.05" ry="4.2"/>
<ellipse cx="92.99" cy="173.13" rx="4.05" ry="4.2"/>
<ellipse cx="93.77" cy="172.73" rx="4.05" ry="4.2"/>
<ellipse cx="94.55" cy="172.32" rx="4.05" ry="4.2"/>
<ellipse cx="95.32" cy="171.90" rx="4.05" ry="4.2"/>
<ellipse cx="96.10" cy="171.46" rx="4.05" ry="4.2"/>
<ellipse cx="96.88" cy="171.01" rx="4.05" ry="4.2"/>
<ellipse cx="97.66" cy="170.55" rx="4.05" ry="4.2"/>
<ellipse cx="98.44" cy="170.06" rx="4.05" ry="4.2"/>
<ellipse cx="99.21" cy="169.56" rx="4.05" ry="4.2"/>
<ellipse cx="99.99" cy="169.04" rx="4.05" ry="4.2"/>
<ellipse cx="100.77" cy="168.50" rx="4.05" ry="4.2"/>
<ellipse cx="101.55" cy="167.94" rx="4.05" ry="4.2"/>
<ellipse cx="102.33" cy="167.35" rx="4.05" ry="4.2"/>
<ellipse cx="103.10" cy="166.74" rx="4.05" ry="4.2"/>
<ellipse cx="103.88" cy="166.11" rx="4.05" ry="4.2"/>
<ellipse cx="104.66" cy="165.44" rx="4.05" ry="4.2"/>
<ellipse cx="105.44" cy="164.75" rx="4.05" ry="4.2"/>
<ellipse cx="106.22" cy="164.02" rx="4.05" ry="4.2"/>
<ellipse cx="106.99" cy="163.25" rx="4.05" ry="4.2"/>
<ellipse cx="107.77" cy="162.44" rx="4.05" ry="4.2"/>
<ellipse cx="108.55" cy="161.59" rx="4.05" ry="4.2"/>
<ellipse cx="109.33" cy="160.70" rx="4.05" ry="4.2"/>
<ellipse cx="110.11" cy="159.75" rx="4.05" ry="4.2"/>
<ellipse cx="110.88" cy="158.74" rx="4.05" ry="4.2"/>
<ellipse cx="111.66" cy="157.67" rx="4.05" ry="4.2"/>
<ellipse cx="112.44" cy="156.52" rx="4.05" ry="4.2"/>
<ellipse cx="113.22" cy="155.29" rx="4.05" ry="4.2"/>
<ellipse cx="114.00" cy="153.97" rx="4.05" ry="4.2"/>
<ellipse cx="114.77" cy="152.53" rx="4.05" ry="4.2"/>
<ellipse cx="115.55" cy="150.97" rx="4.05" ry="4.2"/>
<ellipse cx="116.33" cy="149.26" rx="4.05" ry="4.2"/>
<ellipse cx="117.11" cy="147.37" rx="4.05" ry="4.2"/>
<ellipse cx="117.89" cy="145.27" rx="4.05" ry="4.2"/>
<ellipse cx="118.66" cy="142.90" rx="4.05" ry="4.2"/>
<ellipse cx="119.44" cy="140.18" rx="4.05" ry="4.2"/>
<ellipse cx="120.22" cy="137.02" rx="4.05" ry="4.2"/>
<ellipse cx="121.00" cy="133.24" rx="4.05" ry="4.2"/>
<ellipse cx="121.78" cy="128.56" rx="4.05" ry="4.2"/>
<ellipse cx="122.55" cy="122.46" rx="4.05" ry="4.2"/>
<ellipse cx="123.33" cy="113.75" rx="4.05" ry="4.2"/>
<ellipse cx="124.11" cy="98.66" rx="4.05" ry="4.2"/>
<ellipse cx="125.00" cy="35.50" rx="4.05" ry="4.2"/>
<ellipse cx="125.67" cy="99.24" rx="4.05" ry="4.2"/>
<ellipse cx="126.44" cy="114.89" rx="4.05" ry="4.2"/>
<ellipse cx="127.22" cy="124.14" rx="4.05" ry="4.2"/>
<ellipse cx="128.00" cy="130.77" rx="4.05" ry="4.2"/>
<ellipse cx="128.78" cy="135.97" rx="4.05" ry="4.2"/>
<ellipse cx="129.56" cy="140.26" rx="4.05" ry="4.2"/>
<ellipse cx="130.33" cy="143.93" rx="4.05" ry="4.2"/>
<ellipse cx="131.11" cy="147.13" rx="4.05" ry="4.2"/>
<ellipse cx="131.89" cy="149.99" rx="4.05" ry="4.2"/>
<ellipse cx="132.67" cy="152.58" rx="4.05" ry="4.2"/>
<ellipse cx="133.45" cy="154.94" rx="4.05" ry="4.2"/>
<ellipse cx="134.22" cy="157.12" rx="4.05" ry="4.2"/>
<ellipse cx="135.00" cy="159.15" rx="4.05" ry="4.2"/>
<ellipse cx="135.78" cy="161.04" rx="4.05" ry="4.2"/>
<ellipse cx="136.56" cy="162.83" rx="4.05" ry="4.2"/>
<ellipse cx="137.34" cy="164.52" rx="4.05" ry="4.2"/>
<ellipse cx="138.11" cy="166.13" rx="4.05" ry="4.2"/>
<ellipse cx="138.89" cy="167.66" rx="4.05" ry="4.2"/>
<ellipse cx="139.67" cy="169.12" rx="4.05" ry="4.2"/>
<ellipse cx="140.45" cy="170.53" rx="4.05" ry="4.2"/>
<ellipse cx="141.23" cy="171.88" rx="4.05" ry="4.2"/>
<ellipse cx="142.00" cy="173.19" rx="4.05" ry="4.2"/>
<ellipse cx="142.78" cy="174.45" rx="4.05" ry="4.2"/>
<ellipse cx="143.56" cy="175.68" rx="4.05" ry="4.2"/>
<ellipse cx="144.34" cy="176.87" rx="4.05" ry="4.2"/>
<ellipse cx="145.12" cy="178.02" rx="4.05" ry="4.2"/>
<ellipse cx="145.89" cy="179.15" rx="4.05" ry="4.2"/>
<ellipse cx="146.67" cy="180.25" rx="4.05" ry="4.2"/>
<ellipse cx="147.45" cy="181.33" rx="4.05" ry="4.2"/>
<ellipse cx="148.23" cy="182.38" rx="4.05" ry="4.2"/>
<ellipse cx="149.01" cy="183.42" rx="4.05" ry="4.2"/>
<ellipse cx="149.78" cy="184.43" rx="4.05" ry="4.2"/>
<ellipse cx="150.56" cy="185.43" rx="4.05" ry="4.2"/>
<ellipse cx="151.34" cy="186.41" rx="4.05" ry="4.2"/>
<ellipse cx="152.12" cy="187.37" rx="4.05" ry="4.2"/>
<ellipse cx="152.90" cy="188.32" rx="4.05" ry="4.2"/>
<ellipse cx="153.67" cy="189.26" rx="4.05" ry="4.2"/>
<ellipse cx="154.45" cy="190.19" rx="4.05" ry="4.2"/>
<ellipse cx="155.23" cy="191.11" rx="4.05" ry="4.2"/>
<ellipse cx="156.01" cy="192.02" rx="4.05" ry="4.2"/>
<ellipse cx="156.79" cy="192.92" rx="4.05" ry="4.2"/>
<ellipse cx="157.56" cy="193.81" rx="4.05" ry="4.2"/>
<ellipse cx="158.34" cy="194.69" rx="4.05" ry="4.2"/>
<ellipse cx="159.12" cy="195.57" rx="4.05" ry="4.2"/>
<ellipse cx="159.90" cy="196.45" rx="4.05" ry="4.2"/>
<ellipse cx="160.68" cy="197.32" rx="4.05" ry="4.2"/>
<ellipse cx="161.45" cy="198.18" rx="4.05" ry="4.2"/>
<ellipse cx="162.23" cy="199.04" rx="4.05" ry="4.2"/>
<ellipse cx="163.01" cy="199.90" rx="4.05" ry="4.2"/>
<ellipse cx="163.79" cy="200.76" rx="4.05" ry="4.2"/>
<ellipse cx="164.57" cy="201.61" rx="4.05" ry="4.2"/>
<ellipse cx="165.34" cy="202.47" rx="4.05" ry="4.2"/>
<ellipse cx="166.12" cy="203.32" rx="4.05" ry="4.2"/>
<ellipse cx="166.90" cy="204.18" rx="4.05" ry="4.2"/>
<ellipse cx="167.68" cy="205.03" rx="4.05" ry="4.2"/>
<ellipse cx="168.46" cy="205.89" rx="4.05" ry="4.2"/>
<ellipse cx="169.23" cy="206.75" rx="4.05" ry="4.2"/>
<ellipse cx="170.01" cy="207.62" rx="4.05" ry="4.2"/>
<ellipse cx="170.79" cy="208.48" rx="4.05" ry="4.2"/>
<ellipse cx="171.57" cy="209.36" rx="4.05" ry="4.2"/>
<ellipse cx="172.35" cy="210.23" rx="4.05" ry="4.2"/>
<ellipse cx="173.12" cy="211.12" rx="4.05" ry="4.2"/>
<ellipse cx="173.90" cy="212.00" rx="4.05" ry="4.2"/>
<ellipse cx="174.68" cy="212.90" rx="4.05" ry="4.2"/>
<ellipse cx="175.46" cy="213.81" rx="4.05" ry="4.2"/>
<ellipse cx="176.24" cy="214.72" rx="4.05" ry="4.2"/>
<ellipse cx="177.01" cy="215.65" rx="4.05" ry="4.2"/>
<ellipse cx="177.79" cy="216.58" rx="4.05" ry="4.2"/>
<ellipse cx="178.57" cy="217.53" rx="4.05" ry="4.2"/>
<ellipse cx="179.35" cy="218.49" rx="4.05" ry="4.2"/>
<ellipse cx="180.13" cy="219.46" rx="4.05" ry="4.2"/>
<ellipse cx="180.90" cy="220.45" rx="4.05" ry="4.2"/>
<ellipse cx="181.68" cy="221.46" rx="4.05" ry="4.2"/>
<ellipse cx="182.46" cy="222.49" rx="4.05" ry="4.2"/>
<ellipse cx="183.24" cy="223.53" rx="4.05" ry="4.2"/>
<ellipse cx="184.02" cy="224.60" rx="4.05" ry="4.2"/>
<ellipse cx="184.79" cy="225.69" rx="4.05" ry="4.2"/>
<ellipse cx="185.57" cy="226.81" rx="4.05" ry="4.2"/>
<ellipse cx="186.35" cy="227.96" rx="4.05" ry="4.2"/>
<ellipse cx="187.13" cy="229.13" rx="4.05" ry="4.2"/>
<ellipse cx="187.91" cy="230.35" rx="4.05" ry="4.2"/>
<ellipse cx="188.68" cy="231.60" rx="4.05" ry="4.2"/>
<ellipse cx="189.46" cy="232.89" rx="4.05" ry="4.2"/>
<ellipse cx="190.24" cy="234.22" rx="4.05" ry="4.2"/>
<ellipse cx="191.02" cy="235.61" rx="4.05" ry="4.2"/>
<ellipse cx="191.80" cy="237.05" rx="4.05" ry="4.2"/>
<ellipse cx="192.57" cy="238.56" rx="4.05" ry="4.2"/>
<ellipse cx="193.35" cy="240.14" rx="4.05" ry="4.2"/>
<ellipse cx="194.13" cy="241.79" rx="4.05" ry="4.2"/>
<ellipse cx="194.91" cy="243.54" rx="4.05" ry="4.2"/>
<ellipse cx="195.69" cy="245.40" rx="4.05" ry="4.2"/>
<ellipse cx="196.46" cy="247.38" rx="4.05" ry="4.2"/>
<ellipse cx="197.24" cy="249.50" rx="4.05" ry="4.2"/>
<ellipse cx="198.02" cy="251.79" rx="4.05" ry="4.2"/>
<ellipse cx="198.80" cy="254.29" rx="4.05" ry="4.2"/>
<ellipse cx="199.58" cy="257.05" rx="4.05" ry="4.2"/>
<ellipse cx="200.35" cy="260.12" rx="4.05" ry="4.2"/>
<ellipse cx="201.13" cy="263.60" rx="4.05" ry="4.2"/>
<ellipse cx="201.91" cy="267.64" rx="4.05" ry="4.2"/>
<ellipse cx="202.69" cy="272.47" rx="4.05" ry="4.2"/>
<ellipse cx="203.47" cy="278.50" rx="4.05" ry="4.2"/>
<ellipse cx="204.24" cy="286.60" rx="4.05" ry="4.2"/>
<ellipse cx="205.02" cy="299.10" rx="4.05" ry="4.2"/>
<ellipse cx="205.80" cy="328.88" rx="4.05" ry="4.2"/>
<ellipse cx="206.58" cy="316.32" rx="4.05" ry="4.2"/>
<ellipse cx="207.36" cy="295.57" rx="4.05" ry="4.2"/>
<ellipse cx="208.13" cy="285.16" rx="4.05" ry="4.2"/>
<ellipse cx="208.91" cy="278.21" rx="4.05" ry="4.2"/>
<ellipse cx="209.69" cy="273.00" rx="4.05" ry="4.2"/>
<ellipse cx="210.47" cy="268.86" rx="4.05" ry="4.2"/>
<ellipse cx="211.25" cy="265.42" rx="4.05" ry="4.2"/>
<ellipse cx="212.02" cy="262.49" rx="4.05" ry="4.2"/>
<ellipse cx="212.80" cy="259.95" rx="4.05" ry="4.2"/>
<ellipse cx="213.58" cy="257.70" rx="4.05" ry="4.2"/>
<ellipse cx="214.36" cy="255.69" rx="4.05" ry="4.2"/>
<ellipse cx="215.14" cy="253.89" rx="4.05" ry="4.2"/>
<ellipse cx="215.91" cy="252.24" rx="4.05" ry="4.2"/>
<ellipse cx="216.69" cy="250.73" rx="4.05" ry="4.2"/>
<ellipse cx="217.47" cy="249.34" rx="4.05" ry="4.2"/>
<ellipse cx="218.25" cy="248.06" rx="4.05" ry="4.2"/>
<ellipse cx="219.03" cy="246.86" rx="4.05" ry="4.2"/>
<ellipse cx="219.80" cy="245.74" rx="4.05" ry="4.2"/>
<ellipse cx="220.58" cy="244.69" rx="4.05" ry="4.2"/>
<ellipse cx="221.36" cy="243.71" rx="4.05" ry="4.2"/>
<ellipse cx="222.14" cy="242.78" rx="4.05" ry="4.2"/>
<ellipse cx="222.92" cy="241.90" rx="4.05" ry="4.2"/>
<ellipse cx="223.69" cy="241.07" rx="4.05" ry="4.2"/>
<ellipse cx="224.47" cy="240.28" rx="4.05" ry="4.2"/>
<ellipse cx="225.25" cy="239.53" rx="4.05" ry="4.2"/>
<ellipse cx="226.03" cy="238.82" rx="4.05" ry="4.2"/>
<ellipse cx="226.81" cy="238.14" rx="4.05" ry="4.2"/>
<ellipse cx="227.58" cy="237.48" rx="4.05" ry="4.2"/>
<ellipse cx="228.36" cy="236.86" rx="4.05" ry="4.2"/>
<ellipse cx="229.14" cy="236.26" rx="4.05" ry="4.2"/>
<ellipse cx="229.92" cy="235.69" rx="4.05" ry="4.2"/>
<ellipse cx="230.70" cy="235.14" rx="4.05" ry="4.2"/>
<ellipse cx="231.47" cy="234.61" rx="4.05" ry="4.2"/>
<ellipse cx="232.25" cy="234.09" rx="4.05" ry="4.2"/>
<ellipse cx="233.03" cy="233.60" rx="4.05" ry="4.2"/>
<ellipse cx="233.81" cy="233.13" rx="4.05" ry="4.2"/>
<ellipse cx="234.59" cy="232.67" rx="4.05" ry="4.2"/>
<ellipse cx="235.36" cy="232.23" rx="4.05" ry="4.2"/>
<ellipse cx="236.14" cy="231.80" rx="4.05" ry="4.2"/>
<ellipse cx="236.92" cy="231.38" rx="4.05" ry="4.2"/>
<ellipse cx="237.70" cy="230.98" rx="4.05" ry="4.2"/>
<ellipse cx="238.48" cy="230.59" rx="4.05" ry="4.2"/>
<ellipse cx="239.25" cy="230.22" rx="4.05" ry="4.2"/>
<ellipse cx="240.03" cy="229.85" rx="4.05" ry="4.2"/>
<ellipse cx="240.81" cy="229.50" rx="4.05" ry="4.2"/>
<ellipse cx="241.59" cy="229.15" rx="4.05" ry="4.2"/>
<ellipse cx="242.37" cy="228.82" rx="4.05" ry="4.2"/>
<ellipse cx="243.14" cy="228.49" rx="4.05" ry="4.2"/>
<ellipse cx="243.92" cy="228.17" rx="4.05" ry="4.2"/>
<ellipse cx="244.70" cy="227.87" rx="4.05" ry="4.2"/>
<ellipse cx="245.48" cy="227.56" rx="4.05" ry="4.2"/>
<ellipse cx="246.26" cy="227.27" rx="4.05" ry="4.2"/>
<ellipse cx="247.03" cy="226.99" rx="4.05" ry="4.2"/>
<ellipse cx="247.81" cy="226.71" rx="4.05" ry="4.2"/>
<ellipse cx="248.59" cy="226.44" rx="4.05" ry="4.2"/>
<ellipse cx="249.37" cy="226.17" rx="4.05" ry="4.2"/>
<ellipse cx="250.15" cy="225.92" rx="4.05" ry="4.2"/>
<ellipse cx="250.92" cy="225.66" rx="4.05" ry="4.2"/>
<ellipse cx="251.70" cy="225.42" rx="4.05" ry="4.2"/>
<ellipse cx="252.48" cy="225.18" rx="4.05" ry="4.2"/>
<ellipse cx="253.26" cy="224.94" rx="4.05" ry="4.2"/>
<ellipse cx="254.04" cy="224.71" rx="4.05" ry="4.2"/>
<ellipse cx="254.81" cy="224.49" rx="4.05" ry="4.2"/>
<ellipse cx="255.59" cy="224.27" rx="4.05" ry="4.2"/>
<ellipse cx="256.37" cy="224.05" rx="4.05" ry="4.2"/>
<ellipse cx="257.15" cy="223.84" rx="4.05" ry="4.2"/>
<ellipse cx="257.93" cy="223.63" rx="4.05" ry="4.2"/>
<ellipse cx="258.70" cy="223.43" rx="4.05" ry="4.2"/>
<ellipse cx="259.48" cy="223.23" rx="4.05" ry="4.2"/>
<ellipse cx="260.26" cy="223.04" rx="4.05" ry="4.2"/>
<ellipse cx="261.04" cy="222.85" rx="4.05" ry="4.2"/>
<ellipse cx="261.82" cy="222.66" rx="4.05" ry="4.2"/>
<ellipse cx="262.59" cy="222.48" rx="4.05" ry="4.2"/>
<ellipse cx="263.37" cy="222.30" rx="4.05" ry="4.2"/>
<ellipse cx="264.15" cy="222.13" rx="4.05" ry="4.2"/>
<ellipse cx="264.93" cy="221.95" rx="4.05" ry="4.2"/>
<ellipse cx="265.71" cy="221.78" rx="4.05" ry="4.2"/>
<ellipse cx="266.48" cy="221.62" rx="4.05" ry="4.2"/>
<ellipse cx="267.26" cy="221.45" rx="4.05" ry="4.2"/>
<ellipse cx="268.04" cy="221.29" rx="4.05" ry="4.2"/>
<ellipse cx="268.82" cy="221.14" rx="4.05" ry="4.2"/>
<ellipse cx="269.60" cy="220.98" rx="4.05" ry="4.2"/>
<ellipse cx="270.37" cy="220.83" rx="4.05" ry="4.2"/>
<ellipse cx="271.15" cy="220.68" rx="4.05" ry="4.2"/>
<ellipse cx="271.93" cy="220.53" rx="4.05" ry="4.2"/>
<ellipse cx="272.71" cy="220.39" rx="4.05" ry="4.2"/>
<ellipse cx="273.49" cy="220.25" rx="4.05" ry="4.2"/>
<ellipse cx="274.26" cy="220.11" rx="4.05" ry="4.2"/>
<ellipse cx="275.04" cy="219.97" rx="4.05" ry="4.2"/>
<ellipse cx="275.82" cy="219.84" rx="4.05" ry="4.2"/>
<ellipse cx="276.60" cy="219.70" rx="4.05" ry="4.2"/>
<ellipse cx="277.38" cy="219.57" rx="4.05" ry="4.2"/>
<ellipse cx="278.15" cy="219.44" rx="4.05" ry="4.2"/>
<ellipse cx="278.93" cy="219.32" rx="4.05" ry="4.2"/>
<ellipse cx="279.71" cy="219.19" rx="4.05" ry="4.2"/>
<ellipse cx="280.49" cy="219.07" rx="4.05" ry="4.2"/>
<ellipse cx="281.27" cy="218.95" rx="4.05" ry="4.2"/>
<ellipse cx="282.04" cy="218.83" rx="4.05" ry="4.2"/>
<ellipse cx="282.82" cy="218.71" rx="4.05" ry="4.2"/>
<ellipse cx="283.60" cy="218.60" rx="4.05" ry="4.2"/>
<ellipse cx="284.38" cy="218.49" rx="4.05" ry="4.2"/>
<ellipse cx="285.16" cy="218.37" rx="4.05" ry="4.2"/>
<ellipse cx="285.93" cy="218.26" rx="4.05" ry="4.2"/>
<ellipse cx="286.71" cy="218.15" rx="4.05" ry="4.2"/>
<ellipse cx="287.49" cy="218.05" rx="4.05" ry="4.2"/>
<ellipse cx="288.27" cy="217.94" rx="4.05" ry="4.2"/>
<ellipse cx="289.05" cy="217.84" rx="4.05" ry="4.2"/>
<ellipse cx="289.82" cy="217.73" rx="4.05" ry="4.2"/>
<ellipse cx="290.60" cy="217.63" rx="4.05" ry="4.2"/>
<ellipse cx="291.38" cy="217.53" rx="4.05" ry="4.2"/>
<ellipse cx="292.16" cy="217.43" rx="4.05" ry="4.2"/>
<ellipse cx="292.94" cy="217.34" rx="4.05" ry="4.2"/>
<ellipse cx="293.71" cy="217.24" rx="4.05" ry="4.2"/>
<ellipse cx="294.49" cy="217.15" rx="4.05" ry="4.2"/>
<ellipse cx="295.27" cy="217.05" rx="4.05" ry="4.2"/>
<ellipse cx="296.05" cy="216.96" rx="4.05" ry="4.2"/>
<ellipse cx="296.83" cy="216.87" rx="4.05" ry="4.2"/>
<ellipse cx="297.60" cy="216.78" rx="4.05" ry="4.2"/>
<ellipse cx="298.38" cy="216.69" rx="4.05" ry="4.2"/>
<ellipse cx="299.16" cy="216.61" rx="4.05" ry="4.2"/>
<ellipse cx="299.94" cy="216.52" rx="4.05" ry="4.2"/>
<ellipse cx="300.72" cy="216.43" rx="4.05" ry="4.2"/>
<ellipse cx="301.49" cy="216.35" rx="4.05" ry="4.2"/>
<ellipse cx="302.27" cy="216.27" rx="4.05" ry="4.2"/>
<ellipse cx="303.05" cy="216.18" rx="4.05" ry="4.2"/>
<ellipse cx="303.83" cy="216.10" rx="4.05" ry="4.2"/>
<ellipse cx="304.61" cy="216.02" rx="4.05" ry="4.2"/>
<ellipse cx="305.38" cy="215.94" rx="4.05" ry="4.2"/>
<ellipse cx="306.16" cy="215.87" rx="4.05" ry="4.2"/>
<ellipse cx="306.94" cy="215.79" rx="4.05" ry="4.2"/>
<ellipse cx="307.72" cy="215.71" rx="4.05" ry="4.2"/>
<ellipse cx="308.50" cy="215.64" rx="4.05" ry="4.2"/>
<ellipse cx="309.27" cy="215.56" rx="4.05" ry="4.2"/>
<ellipse cx="310.05" cy="215.49" rx="4.05" ry="4.2"/>
<ellipse cx="310.83" cy="215.42" rx="4.05" ry="4.2"/>
<ellipse cx="311.61" cy="215.35" rx="4.05" ry="4.2"/>
<ellipse cx="312.39" cy="215.27" rx="4.05" ry="4.2"/>
<ellipse cx="313.16" cy="215.20" rx="4.05" ry="4.2"/>
<ellipse cx="313.94" cy="215.13" rx="4.05" ry="4.2"/>
<ellipse cx="314.72" cy="215.07" rx="4.05" ry="4.2"/>
<ellipse cx="315.50" cy="215.00" rx="4.05" ry="4.2"/>
<ellipse cx="316.28" cy="214.93" rx="4.05" ry="4.2"/>
<ellipse cx="317.05" cy="214.86" rx="4.05" ry="4.2"/>
<ellipse cx="317.83" cy="214.80" rx="4.05" ry="4.2"/>
<ellipse cx="318.61" cy="214.73" rx="4.05" ry="4.2"/>
<ellipse cx="319.39" cy="214.67" rx="4.05" ry="4.2"/>
<ellipse cx="320.17" cy="214.61" rx="4.05" ry="4.2"/>
<ellipse cx="320.94" cy="214.54" rx="4.05" ry="4.2"/>
<ellipse cx="321.72" cy="214.48" rx="4.05" ry="4.2"/>
<ellipse cx="322.50" cy="214.42" rx="4.05" ry="4.2"/>
<ellipse cx="323.28" cy="214.36" rx="4.05" ry="4.2"/>
<ellipse cx="324.06" cy="214.30" rx="4.05" ry="4.2"/>
<ellipse cx="324.83" cy="214.24" rx="4.05" ry="4.2"/>
<ellipse cx="325.61" cy="214.18" rx="4.05" ry="4.2"/>
<ellipse cx="326.39" cy="214.12" rx="4.05" ry="4.2"/>
<ellipse cx="327.17" cy="214.06" rx="4.05" ry="4.2"/>
<ellipse cx="327.95" cy="214.01" rx="4.05" ry="4.2"/>
<ellipse cx="328.72" cy="213.95" rx="4.05" ry="4.2"/>
<ellipse cx="329.50" cy="213.89" rx="4.05" ry="4.2"/>
<ellipse cx="330.28" cy="213.84" rx="4.05" ry="4.2"/>
<ellipse cx="331.06" cy="213.78" rx="4.05" ry="4.2"/>
<ellipse cx="331.84" cy="213.73" rx="4.05" ry="4.2"/>
<ellipse cx="332.61" cy="213.67" rx="4.05" ry="4.2"/>
<ellipse cx="333.39" cy="213.62" rx="4.05" ry="4.2"/>
</g>
<path d="M78.39 108.20 L79.94 107.54 L81.50 106.85 L83.06 106.14 L84.61 105.40 L86.17 104.62 L87.72 103.81 L89.28 102.97 L90.84 102.08 L92.39 101.15 L93.95 100.18 L95.50 99.15 L97.06 98.06 L98.62 96.90 L100.17 95.67 L101.73 94.36 L103.28 92.95 L104.84 91.44 L106.40 89.80 L107.95 88.02 L109.51 86.06 L111.06 83.90 L112.62 81.48 L114.18 78.75 L115.73 75.60 L117.29 71.90 L118.84 67.43 L120.40 61.77 L121.96 54.10 L123.51 42.25 L125.05 16.45 L126.60 21.40 L128.18 45.90 L129.74 56.63 L131.29 63.91 L132.85 69.44 L134.40 73.91 L135.96 77.66 L137.52 80.90 L139.07 83.75 L140.63 86.30 L142.18 88.61 L143.74 90.72 L145.30 92.66 L146.85 94.46 L148.41 96.15 L149.96 97.73 L151.52 99.22 L153.08 100.63 L154.63 101.96 L156.19 103.24 L157.74 104.45 L159.30 105.62 L160.86 106.73 L162.41 107.81 L163.97 108.84 L165.52 109.84 L167.08 110.80 L168.64 111.74 L170.19 112.64 L171.75 113.52 L173.30 114.37 L174.86 115.20 L176.42 116.01 L177.97 116.80 L179.53 117.57 L181.08 118.32 L182.64 119.05 L184.20 119.77 L185.75 120.47 L187.31 121.16 L188.86 121.84 L190.42 122.50 L191.98 123.15 L193.53 123.78 L195.09 124.41 L196.64 125.03 L198.20 125.63 L199.76 126.23 L201.31 126.82 L202.87 127.40 L204.42 127.97 L205.98 128.53 L207.54 129.08 L209.09 129.63 L210.65 130.17 L212.20 130.71 L213.76 131.23 L215.32 131.75 L216.87 132.27 L218.43 132.78 L219.98 133.28 L221.54 133.78 L223.10 134.27 L224.65 134.76 L226.21 135.25 L227.76 135.73 L229.32 136.20 L230.88 136.67 L232.43 137.14 L233.99 137.60 L235.54 138.06 L237.10 138.52 L238.66 138.97 L240.21 139.42 L241.77 139.87 L243.32 140.31 L244.88 140.75 L246.44 141.19 L247.99 141.62 L249.55 142.05 L251.10 142.48 L252.66 142.91 L254.22 143.33 L255.77 143.76 L257.33 144.18 L258.88 144.59 L260.44 145.01 L262.00 145.42 L263.55 145.84 L265.11 146.25 L266.66 146.66 L268.22 147.07 L269.78 147.47 L271.33 147.88 L272.89 148.28 L274.44 148.68 L276.00 149.08 L277.56 149.48 L279.11 149.88 L280.67 150.28 L282.22 150.68 L283.78 151.08 L285.34 151.47 L286.89 151.87 L288.45 152.26 L290.00 152.66 L291.56 153.05 L293.12 153.44 L294.67 153.83 L296.23 154.23 L297.78 154.62 L299.34 155.01 L300.90 155.40 L302.45 155.79 L304.01 156.18 L305.56 156.58 L307.12 156.97 L308.68 157.36 L310.23 157.75 L311.79 158.14 L313.34 158.54 L314.90 158.93 L316.46 159.32 L318.01 159.72 L319.57 160.11 L321.12 160.51 L322.68 160.90 L324.24 161.30 L325.79 161.70 L327.35 162.10 L328.90 162.50 L330.46 162.90 L332.02 163.30 L333.57 163.70 L335.13 164.11 L336.68 164.51 L338.24 164.92 L339.80 165.33 L341.35 165.74 L342.91 166.15 L344.46 166.56 L346.02 166.98 L347.58 167.40 L349.13 167.81 L350.69 168.24 L352.24 168.66 L353.80 169.08 L355.36 169.51 L356.91 169.94 L358.47 170.38 L360.02 170.81 L361.58 171.25 L363.14 171.69 L364.69 172.14 L366.25 172.58 L367.80 173.03 L369.36 173.49 L370.92 173.94 L372.47 174.41 L374.03 174.87 L375.58 175.34 L377.14 175.81 L378.70 176.29 L380.25 176.77 L381.81 177.26 L383.36 177.75 L384.92 178.24 L386.48 178.74 L388.03 179.25 L389.59 179.76 L391.14 180.28 L392.70 180.80 L394.26 181.33 L395.81 181.87 L397.37 182.41 L398.92 182.96 L400.48 183.52 L402.04 184.09 L403.59 184.66 L405.15 185.24 L406.70 185.84 L408.26 186.44 L409.82 187.05 L411.37 187.67 L412.93 188.30 L414.48 188.94 L416.04 189.60 L417.60 190.27 L419.15 190.95 L420.71 191.64 L422.26 192.35 L423.82 193.07 L425.38 193.81 L426.93 194.57 L428.49 195.35 L430.04 196.15 L431.60 196.96 L433.16 197.80 L434.71 198.67 L436.27 199.56 L437.82 200.48 L439.38 201.42 L440.94 202.40 L442.49 203.41 L444.05 204.47 L445.60 205.56 L447.16 206.70 L448.72 207.88 L450.27 209.12 L451.83 210.42 L453.38 211.79 L454.94 213.23 L456.50 214.76 L458.05 216.39 L459.61 218.12 L461.16 219.99 L462.72 222.00 L464.28 224.19 L465.83 226.60 L467.39 229.28 L468.94 232.29 L470.50 235.73 L472.06 239.77 L473.61 244.66 L475.17 250.87 L476.72 259.40 L478.28 273.22 L480.04 318.50 L481.39 281.30 L482.95 263.70 L484.50 254.06 L486.06 247.40 L487.62 242.31 L489.17 238.21 L490.73 234.77 L492.28 231.82 L493.84 229.23 L495.40 226.93 L496.95 224.87 L498.51 222.99 L500.06 221.27 L501.62 219.69 L503.18 218.23 L504.73 216.86 L506.29 215.59 L507.84 214.39 L509.40 213.26 L510.96 212.20 L512.51 211.19 L514.07 210.24 L515.62 209.33 L517.18 208.46 L518.74 207.63 L520.29 206.84 L521.85 206.08 L523.40 205.35 L524.96 204.65 L526.52 203.98 L528.07 203.33 L529.63 202.70 L531.18 202.10 L532.74 201.51 L534.30 200.95 L535.85 200.40 L537.41 199.87 L538.96 199.36 L540.52 198.86" fill="none" stroke="#000000" stroke-width="1.2"/>
<g fill="#000000">
<ellipse cx="78.39" cy="108.20" rx="4.05" ry="4.2"/>
<ellipse cx="79.94" cy="107.54" rx="4.05" ry="4.2"/>
<ellipse cx="81.50" cy="106.85" rx="4.05" ry="4.2"/>
<ellipse cx="83.06" cy="106.14" rx="4.05" ry="4.2"/>
<ellipse cx="84.61" cy="105.40" rx="4.05" ry="4.2"/>
<ellipse cx="86.17" cy="104.62" rx="4.05" ry="4.2"/>
<ellipse cx="87.72" cy="103.81" rx="4.05" ry="4.2"/>
<ellipse cx="89.28" cy="102.97" rx="4.05" ry="4.2"/>
<ellipse cx="90.84" cy="102.08" rx="4.05" ry="4.2"/>
<ellipse cx="92.39" cy="101.15" rx="4.05" ry="4.2"/>
<ellipse cx="93.95" cy="100.18" rx="4.05" ry="4.2"/>
<ellipse cx="95.50" cy="99.15" rx="4.05" ry="4.2"/>
<ellipse cx="97.06" cy="98.06" rx="4.05" ry="4.2"/>
<ellipse cx="98.62" cy="96.90" rx="4.05" ry="4.2"/>
<ellipse cx="100.17" cy="95.67" rx="4.05" ry="4.2"/>
<ellipse cx="101.73" cy="94.36" rx="4.05" ry="4.2"/>
<ellipse cx="103.28" cy="92.95" rx="4.05" ry="4.2"/>
<ellipse cx="104.84" cy="91.44" rx="4.05" ry="4.2"/>
<ellipse cx="106.40" cy="89.80" rx="4.05" ry="4.2"/>
<ellipse cx="107.95" cy="88.02" rx="4.05" ry="4.2"/>
<ellipse cx="109.51" cy="86.06" rx="4.05" ry="4.2"/>
<ellipse cx="111.06" cy="83.90" rx="4.05" ry="4.2"/>
<ellipse cx="112.62" cy="81.48" rx="4.05" ry="4.2"/>
<ellipse cx="114.18" cy="78.75" rx="4.05" ry="4.2"/>
<ellipse cx="115.73" cy="75.60" rx="4.05" ry="4.2"/>
<ellipse cx="117.29" cy="71.90" rx="4.05" ry="4.2"/>
<ellipse cx="118.84" cy="67.43" rx="4.05" ry="4.2"/>
<ellipse cx="120.40" cy="61.77" rx="4.05" ry="4.2"/>
<ellipse cx="121.96" cy="54.10" rx="4.05" ry="4.2"/>
<ellipse cx="123.51" cy="42.25" rx="4.05" ry="4.2"/>
<ellipse cx="125.05" cy="16.45" rx="4.05" ry="4.2"/>
<ellipse cx="126.60" cy="21.40" rx="4.05" ry="4.2"/>
<ellipse cx="128.18" cy="45.90" rx="4.05" ry="4.2"/>
<ellipse cx="129.74" cy="56.63" rx="4.05" ry="4.2"/>
<ellipse cx="131.29" cy="63.91" rx="4.05" ry="4.2"/>
<ellipse cx="132.85" cy="69.44" rx="4.05" ry="4.2"/>
<ellipse cx="134.40" cy="73.91" rx="4.05" ry="4.2"/>
<ellipse cx="135.96" cy="77.66" rx="4.05" ry="4.2"/>
<ellipse cx="137.52" cy="80.90" rx="4.05" ry="4.2"/>
<ellipse cx="139.07" cy="83.75" rx="4.05" ry="4.2"/>
<ellipse cx="140.63" cy="86.30" rx="4.05" ry="4.2"/>
<ellipse cx="142.18" cy="88.61" rx="4.05" ry="4.2"/>
<ellipse cx="143.74" cy="90.72" rx="4.05" ry="4.2"/>
<ellipse cx="145.30" cy="92.66" rx="4.05" ry="4.2"/>
<ellipse cx="146.85" cy="94.46" rx="4.05" ry="4.2"/>
<ellipse cx="148.41" cy="96.15" rx="4.05" ry="4.2"/>
<ellipse cx="149.96" cy="97.73" rx="4.05" ry="4.2"/>
<ellipse cx="151.52" cy="99.22" rx="4.05" ry="4.2"/>
<ellipse cx="153.08" cy="100.63" rx="4.05" ry="4.2"/>
<ellipse cx="154.63" cy="101.96" rx="4.05" ry="4.2"/>
<ellipse cx="156.19" cy="103.24" rx="4.05" ry="4.2"/>
<ellipse cx="157.74" cy="104.45" rx="4.05" ry="4.2"/>
<ellipse cx="159.30" cy="105.62" rx="4.05" ry="4.2"/>
<ellipse cx="160.86" cy="106.73" rx="4.05" ry="4.2"/>
<ellipse cx="162.41" cy="107.81" rx="4.05" ry="4.2"/>
<ellipse cx="163.97" cy="108.84" rx="4.05" ry="4.2"/>
<ellipse cx="165.52" cy="109.84" rx="4.05" ry="4.2"/>
<ellipse cx="167.08" cy="110.80" rx="4.05" ry="4.2"/>
<ellipse cx="168.64" cy="111.74" rx="4.05" ry="4.2"/>
<ellipse cx="170.19" cy="112.64" rx="4.05" ry="4.2"/>
<ellipse cx="171.75" cy="113.52" rx="4.05" ry="4.2"/>
<ellipse cx="173.30" cy="114.37" rx="4.05" ry="4.2"/>
<ellipse cx="174.86" cy="115.20" rx="4.05" ry="4.2"/>
<ellipse cx="176.42" cy="116.01" rx="4.05" ry="4.2"/>
<ellipse cx="177.97" cy="116.80" rx="4.05" ry="4.2"/>
<ellipse cx="179.53" cy="117.57" rx="4.05" ry="4.2"/>
<ellipse cx="181.08" cy="118.32" rx="4.05" ry="4.2"/>
<ellipse cx="182.64" cy="119.05" rx="4.05" ry="4.2"/>
<ellipse cx="184.20" cy="119.77" rx="4.05" ry="4.2"/>
<ellipse cx="185.75" cy="120.47" rx="4.05" ry="4.2"/>
<ellipse cx="187.31" cy="121.16" rx="4.05" ry="4.2"/>
<ellipse cx="188.86" cy="121.84" rx="4.05" ry="4.2"/>
<ellipse cx="190.42" cy="122.50" rx="4.05" ry="4.2"/>
<ellipse cx="191.98" cy="123.15" rx="4.05" ry="4.2"/>
<ellipse cx="193.53" cy="123.78" rx="4.05" ry="4.2"/>
<ellipse cx="195.09" cy="124.41" rx="4.05" ry="4.2"/>
<ellipse cx="196.64" cy="125.03" rx="4.05" ry="4.2"/>
<ellipse cx="198.20" cy="125.63" rx="4.05" ry="4.2"/>
<ellipse cx="199.76" cy="126.23" rx="4.05" ry="4.2"/>
<ellipse cx="201.31" cy="126.82" rx="4.05" ry="4.2"/>
<ellipse cx="202.87" cy="127.40" rx="4.05" ry="4.2"/>
<ellipse cx="204.42" cy="127.97" rx="4.05" ry="4.2"/>
<ellipse cx="205.98" cy="128.53" rx="4.05" ry="4.2"/>
<ellipse cx="207.54" cy="129.08" rx="4.05" ry="4.2"/>
<ellipse cx="209.09" cy="129.63" rx="4.05" ry="4.2"/>
<ellipse cx="210.65" cy="130.17" rx="4.05" ry="4.2"/>
<ellipse cx="212.20" cy="130.71" rx="4.05" ry="4.2"/>
<ellipse cx="213.76" cy="131.23" rx="4.05" ry="4.2"/>
<ellipse cx="215.32" cy="131.75" rx="4.05" ry="4.2"/>
<ellipse cx="216.87" cy="132.27" rx="4.05" ry="4.2"/>
<ellipse cx="218.43" cy="132.78" rx="4.05" ry="4.2"/>
<ellipse cx="219.98" cy="133.28" rx="4.05" ry="4.2"/>
<ellipse cx="221.54" cy="133.78" rx="4.05" ry="4.2"/>
<ellipse cx="223.10" cy="134.27" rx="4.05" ry="4.2"/>
<ellipse cx="224.65" cy="134.76" rx="4.05" ry="4.2"/>
<ellipse cx="226.21" cy="135.25" rx="4.05" ry="4.2"/>
<ellipse cx="227.76" cy="135.73" rx="4.05" ry="4.2"/>
<ellipse cx="229.32" cy="136.20" rx="4.05" ry="4.2"/>
<ellipse cx="230.88" cy="136.67" rx="4.05" ry="4.2"/>
<ellipse cx="232.43" cy="137.14" rx="4.05" ry="4.2"/>
<ellipse cx="233.99" cy="137.60" rx="4.05" ry="4.2"/>
<ellipse cx="235.54" cy="138.06" rx="4.05" ry="4.2"/>
<ellipse cx="237.10" cy="138.52" rx="4.05" ry="4.2"/>
<ellipse cx="238.66" cy="138.97" rx="4.05" ry="4.2"/>
<ellipse cx="240.21" cy="139.42" rx="4.05" ry="4.2"/>
<ellipse cx="241.77" cy="139.87" rx="4.05" ry="4.2"/>
<ellipse cx="243.32" cy="140.31" rx="4.05" ry="4.2"/>
<ellipse cx="244.88" cy="140.75" rx="4.05" ry="4.2"/>
<ellipse cx="246.44" cy="141.19" rx="4.05" ry="4.2"/>
<ellipse cx="247.99" cy="141.62" rx="4.05" ry="4.2"/>
<ellipse cx="249.55" cy="142.05" rx="4.05" ry="4.2"/>
<ellipse cx="251.10" cy="142.48" rx="4.05" ry="4.2"/>
<ellipse cx="252.66" cy="142.91" rx="4.05" ry="4.2"/>
<ellipse cx="254.22" cy="143.33" rx="4.05" ry="4.2"/>
<ellipse cx="255.77" cy="143.76" rx="4.05" ry="4.2"/>
<ellipse cx="257.33" cy="144.18" rx="4.05" ry="4.2"/>
<ellipse cx="258.88" cy="144.59" rx="4.05" ry="4.2"/>
<ellipse cx="260.44" cy="145.01" rx="4.05" ry="4.2"/>
<ellipse cx="262.00" cy="145.42" rx="4.05" ry="4.2"/>
<ellipse cx="263.55" cy="145.84" rx="4.05" ry="4.2"/>
<ellipse cx="265.11" cy="146.25" rx="4.05" ry="4.2"/>
<ellipse cx="266.66" cy="146.66" rx="4.05" ry="4.2"/>
<ellipse cx="268.22" cy="147.07" rx="4.05" ry="4.2"/>
<ellipse cx="269.78" cy="147.47" rx="4.05" ry="4.2"/>
<ellipse cx="271.33" cy="147.88" rx="4.05" ry="4.2"/>
<ellipse cx="272.89" cy="148.28" rx="4.05" ry="4.2"/>
<ellipse cx="274.44" cy="148.68" rx="4.05" ry="4.2"/>
<ellipse cx="276.00" cy="149.08" rx="4.05" ry="4.2"/>
<ellipse cx="277.56" cy="149.48" rx="4.05" ry="4.2"/>
<ellipse cx="279.11" cy="149.88" rx="4.05" ry="4.2"/>
<ellipse cx="280.67" cy="150.28" rx="4.05" ry="4.2"/>
<ellipse cx="282.22" cy="150.68" rx="4.05" ry="4.2"/>
<ellipse cx="283.78" cy="151.08" rx="4.05" ry="4.2"/>
<ellipse cx="285.34" cy="151.47" rx="4.05" ry="4.2"/>
<ellipse cx="286.89" cy="151.87" rx="4.05" ry="4.2"/>
<ellipse cx="288.45" cy="152.26" rx="4.05" ry="4.2"/>
<ellipse cx="290.00" cy="152.66" rx="4.05" ry="4.2"/>
<ellipse cx="291.56" cy="153.05" rx="4.05" ry="4.2"/>
<ellipse cx="293.12" cy="153.44" rx="4.05" ry="4.2"/>
<ellipse cx="294.67" cy="153.83" rx="4.05" ry="4.2"/>
<ellipse cx="296.23" cy="154.23" rx="4.05" ry="4.2"/>
<ellipse cx="297.78" cy="154.62" rx="4.05" ry="4.2"/>
<ellipse cx="299.34" cy="155.01" rx="4.05" ry="4.2"/>
<ellipse cx="300.90" cy="155.40" rx="4.05" ry="4.2"/>
<ellipse cx="302.45" cy="155.79" rx="4.05" ry="4.2"/>
<ellipse cx="304.01" cy="156.18" rx="4.05" ry="4.2"/>
<ellipse cx="305.56" cy="156.58" rx="4.05" ry="4.2"/>
<ellipse cx="307.12" cy="156.97" rx="4.05" ry="4.2"/>
<ellipse cx="308.68" cy="157.36" rx="4.05" ry="4.2"/>
<ellipse cx="310.23" cy="157.75" rx="4.05" ry="4.2"/>
<ellipse cx="311.79" cy="158.14" rx="4.05" ry="4.2"/>
<ellipse cx="313.34" cy="158.54" rx="4.05" ry="4.2"/>
<ellipse cx="314.90" cy="158.93" rx="4.05" ry="4.2"/>
<ellipse cx="316.46" cy="159.32" rx="4.05" ry="4.2"/>
<ellipse cx="318.01" cy="159.72" rx="4.05" ry="4.2"/>
<ellipse cx="319.57" cy="160.11" rx="4.05" ry="4.2"/>
<ellipse cx="321.12" cy="160.51" rx="4.05" ry="4.2"/>
<ellipse cx="322.68" cy="160.90" rx="4.05" ry="4.2"/>
<ellipse cx="324.24" cy="161.30" rx="4.05" ry="4.2"/>
<ellipse cx="325.79" cy="161.70" rx="4.05" ry="4.2"/>
<ellipse cx="327.35" cy="162.10" rx="4.05" ry="4.2"/>
<ellipse cx="328.90" cy="162.50" rx="4.05" ry="4.2"/>
<ellipse cx="330.46" cy="162.90" rx="4.05" ry="4.2"/>
<ellipse cx="332.02" cy="163.30" rx="4.05" ry="4.2"/>
<ellipse cx="333.57" cy="163.70" rx="4.05" ry="4.2"/>
<ellipse cx="335.13" cy="164.11" rx="4.05" ry="4.2"/>
<ellipse cx="336.68" cy="164.51" rx="4.05" ry="4.2"/>
<ellipse cx="338.24" cy="164.92" rx="4.05" ry="4.2"/>
<ellipse cx="339.80" cy="165.33" rx="4.05" ry="4.2"/>
<ellipse cx="341.35" cy="165.74" rx="4.05" ry="4.2"/>
<ellipse cx="342.91" cy="166.15" rx="4.05" ry="4.2"/>
<ellipse cx="344.46" cy="166.56" rx="4.05" ry="4.2"/>
<ellipse cx="346.02" cy="166.98" rx="4.05" ry="4.2"/>
<ellipse cx="347.58" cy="167.40" rx="4.05" ry="4.2"/>
<ellipse cx="349.13" cy="167.81" rx="4.05" ry="4.2"/>
<ellipse cx="350.69" cy="168.24" rx="4.05" ry="4.2"/>
<ellipse cx="352.24" cy="168.66" rx="4.05" ry="4.2"/>
<ellipse cx="353.80" cy="169.08" rx="4.05" ry="4.2"/>
<ellipse cx="355.36" cy="169.51" rx="4.05" ry="4.2"/>
<ellipse cx="356.91" cy="169.94" rx="4.05" ry="4.2"/>
<ellipse cx="358.47" cy="170.38" rx="4.05" ry="4.2"/>
<ellipse cx="360.02" cy="170.81" rx="4.05" ry="4.2"/>
<ellipse cx="361.58" cy="171.25" rx="4.05" ry="4.2"/>
<ellipse cx="363.14" cy="171.69" rx="4.05" ry="4.2"/>
<ellipse cx="364.69" cy="172.14" rx="4.05" ry="4.2"/>
<ellipse cx="366.25" cy="172.58" rx="4.05" ry="4.2"/>
<ellipse cx="367.80" cy="173.03" rx="4.05" ry="4.2"/>
<ellipse cx="369.36" cy="173.49" rx="4.05" ry="4.2"/>
<ellipse cx="370.92" cy="173.94" rx="4.05" ry="4.2"/>
<ellipse cx="372.47" cy="174.41" rx="4.05" ry="4.2"/>
<ellipse cx="374.03" cy="174.87" rx="4.05" ry="4.2"/>
<ellipse cx="375.58" cy="175.34" rx="4.05" ry="4.2"/>
<ellipse cx="377.14" cy="175.81" rx="4.05" ry="4.2"/>
<ellipse cx="378.70" cy="176.29" rx="4.05" ry="4.2"/>
<ellipse cx="380.25" cy="176.77" rx="4.05" ry="4.2"/>
<ellipse cx="381.81" cy="177.26" rx="4.05" ry="4.2"/>
<ellipse cx="383.36" cy="177.75" rx="4.05" ry="4.2"/>
<ellipse cx="384.92" cy="178.24" rx="4.05" ry="4.2"/>
<ellipse cx="386.48" cy="178.74" rx="4.05" ry="4.2"/>
<ellipse cx="388.03" cy="179.25" rx="4.05" ry="4.2"/>
<ellipse cx="389.59" cy="179.76" rx="4.05" ry="4.2"/>
<ellipse cx="391.14" cy="180.28" rx="4.05" ry="4.2"/>
<ellipse cx="392.70" cy="180.80" rx="4.05" ry="4.2"/>
<ellipse cx="394.26" cy="181.33" rx="4.05" ry="4.2"/>
<ellipse cx="395.81" cy="181.87" rx="4.05" ry="4.2"/>
<ellipse cx="397.37" cy="182.41" rx="4.05" ry="4.2"/>
<ellipse cx="398.92" cy="182.96" rx="4.05" ry="4.2"/>
<ellipse cx="400.48" cy="183.52" rx="4.05" ry="4.2"/>
<ellipse cx="402.04" cy="184.09" rx="4.05" ry="4.2"/>
<ellipse cx="403.59" cy="184.66" rx="4.05" ry="4.2"/>
<ellipse cx="405.15" cy="185.24" rx="4.05" ry="4.2"/>
<ellipse cx="406.70" cy="185.84" rx="4.05" ry="4.2"/>
<ellipse cx="408.26" cy="186.44" rx="4.05" ry="4.2"/>
<ellipse cx="409.82" cy="187.05" rx="4.05" ry="4.2"/>
<ellipse cx="411.37" cy="187.67" rx="4.05" ry="4.2"/>
<ellipse cx="412.93" cy="188.30" rx="4.05" ry="4.2"/>
<ellipse cx="414.48" cy="188.94" rx="4.05" ry="4.2"/>
<ellipse cx="416.04" cy="189.60" rx="4.05" ry="4.2"/>
<ellipse cx="417.60" cy="190.27" rx="4.05" ry="4.2"/>
<ellipse cx="419.15" cy="190.95" rx="4.05" ry="4.2"/>
<ellipse cx="420.71" cy="191.64" rx="4.05" ry="4.2"/>
<ellipse cx="422.26" cy="192.35" rx="4.05" ry="4.2"/>
<ellipse cx="423.82" cy="193.07" rx="4.05" ry="4.2"/>
<ellipse cx="425.38" cy="193.81" rx="4.05" ry="4.2"/>
<ellipse cx="426.93" cy="194.57" rx="4.05" ry="4.2"/>
<ellipse cx="428.49" cy="195.35" rx="4.05" ry="4.2"/>
<ellipse cx="430.04" cy="196.15" rx="4.05" ry="4.2"/>
<ellipse cx="431.60" cy="196.96" rx="4.05" ry="4.2"/>
<ellipse cx="433.16" cy="197.80" rx="4.05" ry="4.2"/>
<ellipse cx="434.71" cy="198.67" rx="4.05" ry="4.2"/>
<ellipse cx="436.27" cy="199.56" rx="4.05" ry="4.2"/>
<ellipse cx="437.82" cy="200.48" rx="4.05" ry="4.2"/>
<ellipse cx="439.38" cy="201.42" rx="4.05" ry="4.2"/>
<ellipse cx="440.94" cy="202.40" rx="4.05" ry="4.2"/>
<ellipse cx="442.49" cy="203.41" rx="4.05" ry="4.2"/>
<ellipse cx="444.05" cy="204.47" rx="4.05" ry="4.2"/>
<ellipse cx="445.60" cy="205.56" rx="4.05" ry="4.2"/>
<ellipse cx="447.16" cy="206.70" rx="4.05" ry="4.2"/>
<ellipse cx="448.72" cy="207.88" rx="4.05" ry="4.2"/>
<ellipse cx="450.27" cy="209.12" rx="4.05" ry="4.2"/>
<ellipse cx="451.83" cy="210.42" rx="4.05" ry="4.2"/>
<ellipse cx="453.38" cy="211.79" rx="4.05" ry="4.2"/>
<ellipse cx="454.94" cy="213.23" rx="4.05" ry="4.2"/>
<ellipse cx="456.50" cy="214.76" rx="4.05" ry="4.2"/>
<ellipse cx="458.05" cy="216.39" rx="4.05" ry="4.2"/>
<ellipse cx="459.61" cy="218.12" rx="4.05" ry="4.2"/>
<ellipse cx="461.16" cy="219.99" rx="4.05" ry="4.2"/>
<ellipse cx="462.72" cy="222.00" rx="4.05" ry="4.2"/>
<ellipse cx="464.28" cy="224.19" rx="4.05" ry="4.2"/>
<ellipse cx="465.83" cy="226.60" rx="4.05" ry="4.2"/>
<ellipse cx="467.39" cy="229.28" rx="4.05" ry="4.2"/>
<ellipse cx="468.94" cy="232.29" rx="4.05" ry="4.2"/>
<ellipse cx="470.50" cy="235.73" rx="4.05" ry="4.2"/>
<ellipse cx="472.06" cy="239.77" rx="4.05" ry="4.2"/>
<ellipse cx="473.61" cy="244.66" rx="4.05" ry="4.2"/>
<ellipse cx="475.17" cy="250.87" rx="4.05" ry="4.2"/>
<ellipse cx="476.72" cy="259.40" rx="4.05" ry="4.2"/>
<ellipse cx="478.28" cy="273.22" rx="4.05" ry="4.2"/>
<ellipse cx="480.04" cy="318.50" rx="4.05" ry="4.2"/>
<ellipse cx="481.39" cy="281.30" rx="4.05" ry="4.2"/>
<ellipse cx="482.95" cy="263.70" rx="4.05" ry="4.2"/>
<ellipse cx="484.50" cy="254.06" rx="4.05" ry="4.2"/>
<ellipse cx="486.06" cy="247.40" rx="4.05" ry="4.2"/>
<ellipse cx="487.62" cy="242.31" rx="4.05" ry="4.2"/>
<ellipse cx="489.17" cy="238.21" rx="4.05" ry="4.2"/>
<ellipse cx="490.73" cy="234.77" rx="4.05" ry="4.2"/>
<ellipse cx="492.28" cy="231.82" rx="4.05" ry="4.2"/>
<ellipse cx="493.84" cy="229.23" rx="4.05" ry="4.2"/>
<ellipse cx="495.40" cy="226.93" rx="4.05" ry="4.2"/>
<ellipse cx="496.95" cy="224.87" rx="4.05" ry="4.2"/>
<ellipse cx="498.51" cy="222.99" rx="4.05" ry="4.2"/>
<ellipse cx="500.06" cy="221.27" rx="4.05" ry="4.2"/>
<ellipse cx="501.62" cy="219.69" rx="4.05" ry="4.2"/>
<ellipse cx="503.18" cy="218.23" rx="4.05" ry="4.2"/>
<ellipse cx="504.73" cy="216.86" rx="4.05" ry="4.2"/>
<ellipse cx="506.29" cy="215.59" rx="4.05" ry="4.2"/>
<ellipse cx="507.84" cy="214.39" rx="4.05" ry="4.2"/>
<ellipse cx="509.40" cy="213.26" rx="4.05" ry="4.2"/>
<ellipse cx="510.96" cy="212.20" rx="4.05" ry="4.2"/>
<ellipse cx="512.51" cy="211.19" rx="4.05" ry="4.2"/>
<ellipse cx="514.07" cy="210.24" rx="4.05" ry="4.2"/>
<ellipse cx="515.62" cy="209.33" rx="4.05" ry="4.2"/>
<ellipse cx="517.18" cy="208.46" rx="4.05" ry="4.2"/>
<ellipse cx="518.74" cy="207.63" rx="4.05" ry="4.2"/>
<ellipse cx="520.29" cy="206.84" rx="4.05" ry="4.2"/>
<ellipse cx="521.85" cy="206.08" rx="4.05" ry="4.2"/>
<ellipse cx="523.40" cy="205.35" rx="4.05" ry="4.2"/>
<ellipse cx="524.96" cy="204.65" rx="4.05" ry="4.2"/>
<ellipse cx="526.52" cy="203.98" rx="4.05" ry="4.2"/>
<ellipse cx="528.07" cy="203.33" rx="4.05" ry="4.2"/>
<ellipse cx="529.63" cy="202.70" rx="4.05" ry="4.2"/>
<ellipse cx="531.18" cy="202.10" rx="4.05" ry="4.2"/>
<ellipse cx="532.74" cy="201.51" rx="4.05" ry="4.2"/>
<ellipse cx="534.30" cy="200.95" rx="4.05" ry="4.2"/>
<ellipse cx="535.85" cy="200.40" rx="4.05" ry="4.2"/>
<ellipse cx="537.41" cy="199.87" rx="4.05" ry="4.2"/>
<ellipse cx="538.96" cy="199.36" rx="4.05" ry="4.2"/>
<ellipse cx="540.52" cy="198.86" rx="4.05" ry="4.2"/>
</g>
</g>
<rect x="78.52" y="7.53" width="466.80" height="346.54" fill="none" stroke="#0a0a0a" stroke-width="1.45"/>
<path d="M125.20 354.07 v6.5 M203.00 354.07 v6.5 M280.80 354.07 v6.5 M358.60 354.07 v6.5 M436.40 354.07 v6.5 M514.20 354.07 v6.5 M86.30 354.07 v3.8 M164.10 354.07 v3.8 M241.90 354.07 v3.8 M319.70 354.07 v3.8 M397.50 354.07 v3.8 M475.30 354.07 v3.8 M78.52 354.07 h-6.5 M78.52 289.90 h-6.5 M78.52 225.73 h-6.5 M78.52 161.55 h-6.5 M78.52 97.38 h-6.5 M78.52 33.20 h-6.5 M78.52 321.99 h-3.8 M78.52 257.81 h-3.8 M78.52 193.64 h-3.8 M78.52 129.46 h-3.8 M78.52 65.29 h-3.8" stroke="#0a0a0a" stroke-width="1.45" fill="none"/>
<text transform="translate(125.20,378.90) scale(1,1.045)" font-size="17.30" text-anchor="middle">0</text>
<text transform="translate(203.00,378.90) scale(1,1.045)" font-size="17.30" text-anchor="middle">1</text>
<text transform="translate(280.80,378.90) scale(1,1.045)" font-size="17.30" text-anchor="middle">2</text>
<text transform="translate(358.60,378.90) scale(1,1.045)" font-size="17.30" text-anchor="middle">3</text>
<text transform="translate(436.40,378.90) scale(1,1.045)" font-size="17.30" text-anchor="middle">4</text>
<text transform="translate(514.20,378.90) scale(1,1.045)" font-size="17.30" text-anchor="middle">5</text>
<text transform="translate(67.50,359.27) scale(1,1.045)" font-size="17.30" text-anchor="end">150</text>
<text transform="translate(27.32,359.27) scale(1.07,1.045)" font-size="17.3">–</text>
<text transform="translate(67.50,295.10) scale(1,1.045)" font-size="17.30" text-anchor="end">125</text>
<text transform="translate(27.32,295.10) scale(1.07,1.045)" font-size="17.3">–</text>
<text transform="translate(67.50,230.93) scale(1,1.045)" font-size="17.30" text-anchor="end">100</text>
<text transform="translate(27.32,230.93) scale(1.07,1.045)" font-size="17.3">–</text>
<text transform="translate(67.50,166.75) scale(1,1.045)" font-size="17.30" text-anchor="end">75</text>
<text transform="translate(36.95,166.75) scale(1.07,1.045)" font-size="17.3">–</text>
<text transform="translate(67.50,102.58) scale(1,1.045)" font-size="17.30" text-anchor="end">50</text>
<text transform="translate(36.95,102.58) scale(1.07,1.045)" font-size="17.3">–</text>
<text transform="translate(67.50,38.40) scale(1,1.045)" font-size="17.30" text-anchor="end">25</text>
<text transform="translate(36.95,38.40) scale(1.07,1.045)" font-size="17.3">–</text>
<text transform="translate(216.80,410.70) scale(1,1.045)" font-size="20.15" text-anchor="start">Relative frequency(%)</text>
<text transform="translate(24.40,271.00) scale(1,1.045) rotate(-90)" font-size="20.15" text-anchor="start">Admittance, Y(dB)</text>
<path d="M292.3 19.8 H299.5 M308 19.8 H323.2" stroke="#0000ff" stroke-width="1.9" fill="none"/>
<ellipse cx="310.8" cy="19.8" rx="3.6" ry="3.75" fill="#0000ff"/>
<text transform="translate(333.90,25.00) scale(1,1.045)" font-size="15.62" text-anchor="start">Grounded-IDT ,f<tspan dy="4.6" font-size="12">s</tspan><tspan dy="-4.6">= 2.3 GHz</tspan></text>
<path d="M292.3 44.7 H299.5 M308 44.7 H323.2" stroke="#008000" stroke-width="1.9" fill="none"/>
<ellipse cx="310.8" cy="44.7" rx="3.6" ry="3.75" fill="#008000"/>
<text transform="translate(333.90,50.00) scale(1,1.045)" font-size="15.62" text-anchor="start">Open-IDT ,f<tspan dy="4.6" font-size="12">s</tspan><tspan dy="-4.6">= 2.3 GHz</tspan></text>
<path d="M292.3 69.6 H329.5" stroke="#000000" stroke-width="1.7" fill="none"/>
<ellipse cx="310.8" cy="69.6" rx="3.6" ry="3.75" fill="#000000"/>
<text transform="translate(333.90,74.70) scale(1,1.045)" font-size="15.85" text-anchor="start">Double-IDT,f<tspan dy="4.6" font-size="12">s</tspan><tspan dy="-4.6">= 2.3 GHz</tspan></text>
<text transform="translate(386.50,123.75) scale(1,1.045)" font-size="15.65" text-anchor="start">h<tspan dy="5.8" font-size="10.9">SiO2</tspan><tspan dy="-5.8">= 540 nm</tspan></text>
</svg></body></html>
